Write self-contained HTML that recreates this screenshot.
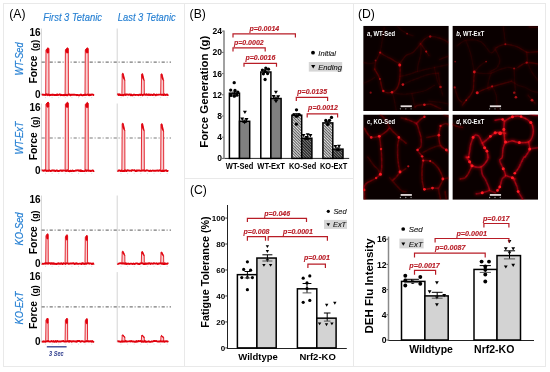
<!DOCTYPE html>
<html><head><meta charset="utf-8"><title>Figure</title>
<style>
html,body{margin:0;padding:0;background:#fff;}
body{width:550px;height:372px;overflow:hidden;}
svg{display:block;}
</style></head>
<body>
<svg width="550" height="372" viewBox="0 0 550 372">
<rect width="550" height="372" fill="#fff"/>
<g fill="none" stroke="#e9e9e9" stroke-width="1">
<rect x="3.5" y="3.5" width="181" height="363"/>
<rect x="184.5" y="3.5" width="169" height="175"/>
<rect x="184.5" y="178.5" width="169" height="188"/>
<rect x="353.5" y="3.5" width="192" height="363"/>
</g>
<text x="9.2" y="18.3" style="font: 12.2px 'Liberation Sans', Arial, sans-serif">(A)</text>
<text x="43.2" y="21.1" style="font: italic 11.4px 'Liberation Sans', Arial, sans-serif; fill:#2780d3; stroke:#2780d3; stroke-width:0.15" textLength="58.8" lengthAdjust="spacingAndGlyphs">First 3 Tetanic</text>
<text x="117.8" y="21.1" style="font: italic 11.4px 'Liberation Sans', Arial, sans-serif; fill:#2780d3; stroke:#2780d3; stroke-width:0.15" textLength="58" lengthAdjust="spacingAndGlyphs">Last 3 Tetanic</text>
<line x1="41.4" y1="28.5" x2="41.4" y2="95.8" stroke="#d4d4d4" stroke-width="1"/>
<line x1="117.2" y1="28.5" x2="117.2" y2="95.8" stroke="#d4d4d4" stroke-width="1"/>
<line x1="45.5" y1="97" x2="45.5" y2="98.2" stroke="#d8d8d8" stroke-width="0.8"/>
<line x1="52.1" y1="97" x2="52.1" y2="98.2" stroke="#d8d8d8" stroke-width="0.8"/>
<line x1="58.7" y1="97" x2="58.7" y2="98.2" stroke="#d8d8d8" stroke-width="0.8"/>
<line x1="65.3" y1="97" x2="65.3" y2="98.2" stroke="#d8d8d8" stroke-width="0.8"/>
<line x1="71.9" y1="97" x2="71.9" y2="98.2" stroke="#d8d8d8" stroke-width="0.8"/>
<line x1="78.5" y1="97" x2="78.5" y2="98.2" stroke="#d8d8d8" stroke-width="0.8"/>
<line x1="85.1" y1="97" x2="85.1" y2="98.2" stroke="#d8d8d8" stroke-width="0.8"/>
<line x1="91.7" y1="97" x2="91.7" y2="98.2" stroke="#d8d8d8" stroke-width="0.8"/>
<line x1="121" y1="97" x2="121" y2="98.2" stroke="#d8d8d8" stroke-width="0.8"/>
<line x1="127.6" y1="97" x2="127.6" y2="98.2" stroke="#d8d8d8" stroke-width="0.8"/>
<line x1="134.2" y1="97" x2="134.2" y2="98.2" stroke="#d8d8d8" stroke-width="0.8"/>
<line x1="140.8" y1="97" x2="140.8" y2="98.2" stroke="#d8d8d8" stroke-width="0.8"/>
<line x1="147.4" y1="97" x2="147.4" y2="98.2" stroke="#d8d8d8" stroke-width="0.8"/>
<line x1="154" y1="97" x2="154" y2="98.2" stroke="#d8d8d8" stroke-width="0.8"/>
<line x1="160.6" y1="97" x2="160.6" y2="98.2" stroke="#d8d8d8" stroke-width="0.8"/>
<line x1="167.2" y1="97" x2="167.2" y2="98.2" stroke="#d8d8d8" stroke-width="0.8"/>
<line x1="41.6" y1="62.1" x2="171" y2="62.1" stroke="#7a7a7a" stroke-width="1.15" stroke-dasharray="3.2,1.8,1.0,2.0"/>
<text x="40.6" y="36.1" text-anchor="end" style="font: bold 10px 'Liberation Sans', Arial, sans-serif">16</text>
<text x="40.6" y="98.4" text-anchor="end" style="font: bold 10px 'Liberation Sans', Arial, sans-serif">0</text>
<text transform="translate(36.9,83.6) rotate(-90)" style="font: bold 10.3px 'Liberation Sans', Arial, sans-serif">Force<tspan style="font-size:8.8px" dx="2.0" dy="0.7"> (g)</tspan></text>
<text transform="translate(23.2,58.9) rotate(-90)" text-anchor="middle" style="font: italic 11px 'Liberation Sans', Arial, sans-serif; fill:#2780d3; stroke:#2780d3; stroke-width:0.2" textLength="33" lengthAdjust="spacingAndGlyphs">WT-Sed</text>
<path d="M45.7,94.8 L46,50 L46.9,48.8 L48.1,47.8 L48.9,48.8 L49,93.3 L49,94.8Z M65.1,94.8 L65.4,50 L66.3,48.8 L67.5,47.8 L68.3,48.8 L68.4,93.3 L68.4,94.8Z M85,94.8 L85.3,50 L86.2,48.8 L87.4,47.8 L88.2,48.8 L88.3,93.3 L88.3,94.8Z M121.9,94.8 L122.2,73.9 L122.7,73.3 L123.2,73.6 L124.5,79.32 L124.8,79.92 L124.9,93.6 L124.9,94.8Z M141.3,94.8 L141.6,74.2 L142.1,73.6 L142.6,73.9 L143.9,79.54 L144.2,80.13 L144.3,93.6 L144.3,94.8Z M160.7,94.8 L161,74.4 L161.5,73.8 L162,74.1 L163.3,79.68 L163.6,80.27 L163.7,93.6 L163.7,94.8Z" fill="#f8cfd1" stroke="none"/>
<path d="M45.7,94.8 L46,50 L46.9,48.8 L48.1,47.8 L48.9,48.8 L49,93.3 Q49.2,94.8 50.6,94.8 M65.1,94.8 L65.4,50 L66.3,48.8 L67.5,47.8 L68.3,48.8 L68.4,93.3 Q68.6,94.8 70,94.8 M85,94.8 L85.3,50 L86.2,48.8 L87.4,47.8 L88.2,48.8 L88.3,93.3 Q88.5,94.8 89.9,94.8 M121.9,94.8 L122.2,73.9 L122.7,73.3 L123.2,73.6 L124.5,79.32 L124.8,79.92 L124.9,93.6 Q125.1,94.8 126.2,94.8 M141.3,94.8 L141.6,74.2 L142.1,73.6 L142.6,73.9 L143.9,79.54 L144.2,80.13 L144.3,93.6 Q144.5,94.8 145.6,94.8 M160.7,94.8 L161,74.4 L161.5,73.8 L162,74.1 L163.3,79.68 L163.6,80.27 L163.7,93.6 Q163.9,94.8 165,94.8" fill="none" stroke="#e42a34" stroke-width="1.0" stroke-linejoin="round"/>
<path d="M41.8,94.8 L42.4,94.54 L43.1,94.84 L43.8,94.67 L44.5,94.9 L45.2,94.93 L45.9,94.37 L46.6,94.31 L47.3,95.14 L48,94.56 L48.7,94.53 L49.4,95.3 L50.1,94.77 L50.8,95.14 L51.5,94.78 L52.2,94.94 L52.9,94.45 L53.6,94.93 L54.3,95.17 L55,94.82 L55.7,95.04 L56.4,94.97 L57.1,94.36 L57.8,95.06 L58.5,94.89 L59.2,94.6 L59.9,94.33 L60.6,95.17 L61.3,94.77 L62,95.02 L62.7,95.18 L63.4,95.01 L64.1,95.22 L64.8,94.69 L65.5,95.1 L66.2,94.74 L66.9,95.24 L67.6,95.18 L68.3,94.4 L69,94.44 L69.7,94.52 L70.4,95.27 L71.1,94.74 L71.8,94.93 L72.5,94.6 L73.2,94.81 L73.9,94.69 L74.6,94.65 L75.3,94.89 L76,94.88 L76.7,95.2 L77.4,94.98 L78.1,95.23 L78.8,95.16 L79.5,95.29 L80.2,94.97 L80.9,94.46 L81.6,95.16 L82.3,95.26 L83,95.2 L83.7,94.87 L84.4,95.01 L85.1,94.51 L85.8,95.13 L86.5,94.87 L87.2,94.58 L87.9,94.36 L88.6,95.15 L89.3,95.29 L90,94.39 L90.7,95.1 L91.4,94.71 L92.1,94.45 L92.8,94.59 L93.5,95.07 L94.2,95.17 M117.4,94.8 L118,94.34 L118.7,94.91 L119.4,94.34 L120.1,95.02 L120.8,94.63 L121.5,95.18 L122.2,95.28 L122.9,94.81 L123.6,95.3 L124.3,94.61 L125,94.38 L125.7,94.9 L126.4,94.33 L127.1,94.5 L127.8,94.71 L128.5,94.91 L129.2,94.46 L129.9,94.34 L130.6,95.17 L131.3,94.61 L132,95.26 L132.7,95.2 L133.4,94.68 L134.1,94.76 L134.8,94.82 L135.5,94.94 L136.2,94.9 L136.9,94.86 L137.6,94.92 L138.3,95.24 L139,94.81 L139.7,94.73 L140.4,95.02 L141.1,94.54 L141.8,94.6 L142.5,95.28 L143.2,94.82 L143.9,94.85 L144.6,94.31 L145.3,94.72 L146,94.88 L146.7,94.32 L147.4,94.92 L148.1,94.93 L148.8,94.36 L149.5,94.93 L150.2,94.77 L150.9,94.98 L151.6,94.65 L152.3,95.01 L153,95.04 L153.7,94.32 L154.4,94.36 L155.1,94.98 L155.8,95.26 L156.5,94.55 L157.2,94.76 L157.9,94.89 L158.6,94.62 L159.3,94.66 L160,94.61 L160.7,94.67 L161.4,94.9 L162.1,94.6 L162.8,94.68 L163.5,95.07 L164.2,94.33 L164.9,94.87 L165.6,95.04 L166.3,94.61 L167,94.52 L167.7,95.1 L168.4,94.54" fill="none" stroke="#e0000c" stroke-width="1.9" stroke-linejoin="round"/>
<path d="M46.2,50 L46.9,48.8 L48.1,47.8 L48.9,48.8 L48.9,52.8 L47.4,53.3 L46.4,52Z M65.6,50 L66.3,48.8 L67.5,47.8 L68.3,48.8 L68.3,52.8 L66.8,53.3 L65.8,52Z M85.5,50 L86.2,48.8 L87.4,47.8 L88.2,48.8 L88.2,52.8 L86.7,53.3 L85.7,52Z M122.3,73.9 L122.7,73.3 L123.2,73.6 L124.6,79.32 L124.7,80.52 L123.4,78.72 L122.5,76.91Z M141.7,74.2 L142.1,73.6 L142.6,73.9 L144,79.54 L144.1,80.74 L142.8,78.94 L141.9,77.16Z M161.1,74.4 L161.5,73.8 L162,74.1 L163.4,79.68 L163.5,80.88 L162.2,79.09 L161.3,77.33Z" fill="#e0000c" stroke="#e0000c" stroke-width="0.4"/>
<line x1="41.4" y1="103.5" x2="41.4" y2="171.7" stroke="#d4d4d4" stroke-width="1"/>
<line x1="117.2" y1="103.5" x2="117.2" y2="171.7" stroke="#d4d4d4" stroke-width="1"/>
<line x1="45.5" y1="172.9" x2="45.5" y2="174.1" stroke="#d8d8d8" stroke-width="0.8"/>
<line x1="52.1" y1="172.9" x2="52.1" y2="174.1" stroke="#d8d8d8" stroke-width="0.8"/>
<line x1="58.7" y1="172.9" x2="58.7" y2="174.1" stroke="#d8d8d8" stroke-width="0.8"/>
<line x1="65.3" y1="172.9" x2="65.3" y2="174.1" stroke="#d8d8d8" stroke-width="0.8"/>
<line x1="71.9" y1="172.9" x2="71.9" y2="174.1" stroke="#d8d8d8" stroke-width="0.8"/>
<line x1="78.5" y1="172.9" x2="78.5" y2="174.1" stroke="#d8d8d8" stroke-width="0.8"/>
<line x1="85.1" y1="172.9" x2="85.1" y2="174.1" stroke="#d8d8d8" stroke-width="0.8"/>
<line x1="91.7" y1="172.9" x2="91.7" y2="174.1" stroke="#d8d8d8" stroke-width="0.8"/>
<line x1="121" y1="172.9" x2="121" y2="174.1" stroke="#d8d8d8" stroke-width="0.8"/>
<line x1="127.6" y1="172.9" x2="127.6" y2="174.1" stroke="#d8d8d8" stroke-width="0.8"/>
<line x1="134.2" y1="172.9" x2="134.2" y2="174.1" stroke="#d8d8d8" stroke-width="0.8"/>
<line x1="140.8" y1="172.9" x2="140.8" y2="174.1" stroke="#d8d8d8" stroke-width="0.8"/>
<line x1="147.4" y1="172.9" x2="147.4" y2="174.1" stroke="#d8d8d8" stroke-width="0.8"/>
<line x1="154" y1="172.9" x2="154" y2="174.1" stroke="#d8d8d8" stroke-width="0.8"/>
<line x1="160.6" y1="172.9" x2="160.6" y2="174.1" stroke="#d8d8d8" stroke-width="0.8"/>
<line x1="167.2" y1="172.9" x2="167.2" y2="174.1" stroke="#d8d8d8" stroke-width="0.8"/>
<line x1="41.6" y1="138" x2="171" y2="138" stroke="#7a7a7a" stroke-width="1.15" stroke-dasharray="3.2,1.8,1.0,2.0"/>
<text x="40.6" y="111.1" text-anchor="end" style="font: bold 10px 'Liberation Sans', Arial, sans-serif">16</text>
<text x="40.6" y="174.3" text-anchor="end" style="font: bold 10px 'Liberation Sans', Arial, sans-serif">0</text>
<text transform="translate(36.9,160.3) rotate(-90)" style="font: bold 10.3px 'Liberation Sans', Arial, sans-serif">Force<tspan style="font-size:8.8px" dx="2.0" dy="0.7"> (g)</tspan></text>
<text transform="translate(23.2,138) rotate(-90)" text-anchor="middle" style="font: italic 11px 'Liberation Sans', Arial, sans-serif; fill:#2780d3; stroke:#2780d3; stroke-width:0.2" textLength="33" lengthAdjust="spacingAndGlyphs">WT-ExT</text>
<path d="M45.7,170.7 L46,104.2 L46.9,103 L48.1,102 L48.9,103 L49,169.2 L49,170.7Z M65.1,170.7 L65.4,104.4 L66.3,103.2 L67.5,102.2 L68.3,103.2 L68.4,169.2 L68.4,170.7Z M85,170.7 L85.3,104.6 L86.2,103.4 L87.4,102.4 L88.2,103.4 L88.3,169.2 L88.3,170.7Z M121.9,170.7 L122.2,123.8 L122.7,123.2 L123.2,123.5 L124.5,129.7 L124.8,130.35 L124.9,169.5 L124.9,170.7Z M141.3,170.7 L141.6,124 L142.1,123.4 L142.6,123.7 L143.9,129.9 L144.2,130.55 L144.3,169.5 L144.3,170.7Z M160.7,170.7 L161,124.4 L161.5,123.8 L162,124.1 L163.3,130.3 L163.6,130.95 L163.7,169.5 L163.7,170.7Z" fill="#f8cfd1" stroke="none"/>
<path d="M45.7,170.7 L46,104.2 L46.9,103 L48.1,102 L48.9,103 L49,169.2 Q49.2,170.7 50.6,170.7 M65.1,170.7 L65.4,104.4 L66.3,103.2 L67.5,102.2 L68.3,103.2 L68.4,169.2 Q68.6,170.7 70,170.7 M85,170.7 L85.3,104.6 L86.2,103.4 L87.4,102.4 L88.2,103.4 L88.3,169.2 Q88.5,170.7 89.9,170.7 M121.9,170.7 L122.2,123.8 L122.7,123.2 L123.2,123.5 L124.5,129.7 L124.8,130.35 L124.9,169.5 Q125.1,170.7 126.2,170.7 M141.3,170.7 L141.6,124 L142.1,123.4 L142.6,123.7 L143.9,129.9 L144.2,130.55 L144.3,169.5 Q144.5,170.7 145.6,170.7 M160.7,170.7 L161,124.4 L161.5,123.8 L162,124.1 L163.3,130.3 L163.6,130.95 L163.7,169.5 Q163.9,170.7 165,170.7" fill="none" stroke="#e42a34" stroke-width="1.0" stroke-linejoin="round"/>
<path d="M41.8,170.7 L42.4,170.39 L43.1,170.64 L43.8,170.9 L44.5,170.3 L45.2,170.52 L45.9,170.53 L46.6,171.03 L47.3,170.64 L48,171.06 L48.7,170.37 L49.4,170.54 L50.1,170.85 L50.8,171.08 L51.5,170.65 L52.2,170.43 L52.9,170.32 L53.6,170.73 L54.3,170.39 L55,171.01 L55.7,171.04 L56.4,170.38 L57.1,170.48 L57.8,171.01 L58.5,170.84 L59.2,171.01 L59.9,170.55 L60.6,170.33 L61.3,170.49 L62,170.99 L62.7,170.47 L63.4,170.55 L64.1,170.62 L64.8,170.62 L65.5,170.61 L66.2,171.12 L66.9,170.36 L67.6,170.2 L68.3,171.14 L69,171.08 L69.7,171.19 L70.4,170.63 L71.1,171.15 L71.8,171.13 L72.5,170.42 L73.2,170.95 L73.9,171.04 L74.6,170.86 L75.3,170.72 L76,170.49 L76.7,170.54 L77.4,170.43 L78.1,170.27 L78.8,170.79 L79.5,170.49 L80.2,171.01 L80.9,170.25 L81.6,171.1 L82.3,170.89 L83,171.12 L83.7,171.1 L84.4,171.1 L85.1,170.78 L85.8,170.21 L86.5,170.95 L87.2,170.37 L87.9,170.5 L88.6,170.86 L89.3,170.72 L90,170.61 L90.7,171.14 L91.4,170.81 L92.1,170.54 L92.8,170.45 L93.5,171.06 L94.2,170.68 M117.4,170.7 L118,170.98 L118.7,170.55 L119.4,170.4 L120.1,170.73 L120.8,171.02 L121.5,170.37 L122.2,170.99 L122.9,171.12 L123.6,171.01 L124.3,171.02 L125,170.21 L125.7,170.83 L126.4,171.06 L127.1,170.25 L127.8,170.47 L128.5,170.47 L129.2,170.73 L129.9,170.62 L130.6,170.67 L131.3,170.98 L132,170.2 L132.7,170.25 L133.4,170.33 L134.1,170.32 L134.8,170.27 L135.5,171.17 L136.2,171.05 L136.9,170.29 L137.6,170.7 L138.3,170.52 L139,170.51 L139.7,170.55 L140.4,170.85 L141.1,170.79 L141.8,170.56 L142.5,170.39 L143.2,170.53 L143.9,170.32 L144.6,170.76 L145.3,170.92 L146,170.58 L146.7,170.28 L147.4,170.38 L148.1,170.57 L148.8,170.8 L149.5,170.98 L150.2,170.58 L150.9,171 L151.6,170.82 L152.3,170.63 L153,170.57 L153.7,170.7 L154.4,170.9 L155.1,170.62 L155.8,170.89 L156.5,170.66 L157.2,170.45 L157.9,170.74 L158.6,170.9 L159.3,170.27 L160,170.62 L160.7,170.63 L161.4,171.08 L162.1,171.14 L162.8,170.57 L163.5,171.1 L164.2,170.99 L164.9,170.46 L165.6,170.66 L166.3,170.32 L167,171.01 L167.7,170.86 L168.4,171.09" fill="none" stroke="#e0000c" stroke-width="1.9" stroke-linejoin="round"/>
<path d="M46.2,104.2 L46.9,103 L48.1,102 L48.9,103 L48.9,107 L47.4,107.5 L46.4,106.2Z M65.6,104.4 L66.3,103.2 L67.5,102.2 L68.3,103.2 L68.3,107.2 L66.8,107.7 L65.8,106.4Z M85.5,104.6 L86.2,103.4 L87.4,102.4 L88.2,103.4 L88.2,107.4 L86.7,107.9 L85.7,106.6Z M122.3,123.8 L122.7,123.2 L123.2,123.5 L124.6,129.7 L124.7,130.9 L123.4,129.05 L122.5,127.1Z M141.7,124 L142.1,123.4 L142.6,123.7 L144,129.9 L144.1,131.1 L142.8,129.25 L141.9,127.3Z M161.1,124.4 L161.5,123.8 L162,124.1 L163.4,130.3 L163.5,131.5 L162.2,129.65 L161.3,127.7Z" fill="#e0000c" stroke="#e0000c" stroke-width="0.4"/>
<line x1="41.4" y1="195.5" x2="41.4" y2="264.6" stroke="#d4d4d4" stroke-width="1"/>
<line x1="117.2" y1="195.5" x2="117.2" y2="264.6" stroke="#d4d4d4" stroke-width="1"/>
<line x1="45.5" y1="265.8" x2="45.5" y2="267" stroke="#d8d8d8" stroke-width="0.8"/>
<line x1="52.1" y1="265.8" x2="52.1" y2="267" stroke="#d8d8d8" stroke-width="0.8"/>
<line x1="58.7" y1="265.8" x2="58.7" y2="267" stroke="#d8d8d8" stroke-width="0.8"/>
<line x1="65.3" y1="265.8" x2="65.3" y2="267" stroke="#d8d8d8" stroke-width="0.8"/>
<line x1="71.9" y1="265.8" x2="71.9" y2="267" stroke="#d8d8d8" stroke-width="0.8"/>
<line x1="78.5" y1="265.8" x2="78.5" y2="267" stroke="#d8d8d8" stroke-width="0.8"/>
<line x1="85.1" y1="265.8" x2="85.1" y2="267" stroke="#d8d8d8" stroke-width="0.8"/>
<line x1="91.7" y1="265.8" x2="91.7" y2="267" stroke="#d8d8d8" stroke-width="0.8"/>
<line x1="121" y1="265.8" x2="121" y2="267" stroke="#d8d8d8" stroke-width="0.8"/>
<line x1="127.6" y1="265.8" x2="127.6" y2="267" stroke="#d8d8d8" stroke-width="0.8"/>
<line x1="134.2" y1="265.8" x2="134.2" y2="267" stroke="#d8d8d8" stroke-width="0.8"/>
<line x1="140.8" y1="265.8" x2="140.8" y2="267" stroke="#d8d8d8" stroke-width="0.8"/>
<line x1="147.4" y1="265.8" x2="147.4" y2="267" stroke="#d8d8d8" stroke-width="0.8"/>
<line x1="154" y1="265.8" x2="154" y2="267" stroke="#d8d8d8" stroke-width="0.8"/>
<line x1="160.6" y1="265.8" x2="160.6" y2="267" stroke="#d8d8d8" stroke-width="0.8"/>
<line x1="167.2" y1="265.8" x2="167.2" y2="267" stroke="#d8d8d8" stroke-width="0.8"/>
<line x1="41.6" y1="230.1" x2="171" y2="230.1" stroke="#7a7a7a" stroke-width="1.15" stroke-dasharray="3.2,1.8,1.0,2.0"/>
<text x="40.6" y="203.1" text-anchor="end" style="font: bold 10px 'Liberation Sans', Arial, sans-serif">16</text>
<text x="40.6" y="267.2" text-anchor="end" style="font: bold 10px 'Liberation Sans', Arial, sans-serif">0</text>
<text transform="translate(36.9,254.2) rotate(-90)" style="font: bold 10.3px 'Liberation Sans', Arial, sans-serif">Force<tspan style="font-size:8.8px" dx="2.0" dy="0.7"> (g)</tspan></text>
<text transform="translate(23.2,229) rotate(-90)" text-anchor="middle" style="font: italic 11px 'Liberation Sans', Arial, sans-serif; fill:#2780d3; stroke:#2780d3; stroke-width:0.2" textLength="33" lengthAdjust="spacingAndGlyphs">KO-Sed</text>
<path d="M45.7,263.6 L46,235.9 L46.67,234.7 L47.58,233.7 L48.17,234.7 L48.25,262.1 L48.25,263.6Z M65.1,263.6 L65.4,236.9 L66.08,235.7 L66.98,234.7 L67.58,235.7 L67.65,262.1 L67.65,263.6Z M85,263.6 L85.3,237.5 L85.97,236.3 L86.88,235.3 L87.47,236.3 L87.55,262.1 L87.55,263.6Z M121.9,263.6 L122.2,251.8 L122.7,251.2 L123.2,251.5 L124.5,254.67 L124.8,255.02 L124.9,262.4 L124.9,263.6Z M141.3,263.6 L141.6,252 L142.1,251.4 L142.6,251.7 L143.9,254.82 L144.2,255.16 L144.3,262.4 L144.3,263.6Z M160.7,263.6 L161,252.6 L161.5,252 L162,252.3 L163.3,255.25 L163.6,255.57 L163.7,262.4 L163.7,263.6Z" fill="#f8cfd1" stroke="none"/>
<path d="M45.7,263.6 L46,235.9 L46.67,234.7 L47.58,233.7 L48.17,234.7 L48.25,262.1 Q48.4,263.6 49.45,263.6 M65.1,263.6 L65.4,236.9 L66.08,235.7 L66.98,234.7 L67.58,235.7 L67.65,262.1 Q67.8,263.6 68.85,263.6 M85,263.6 L85.3,237.5 L85.97,236.3 L86.88,235.3 L87.47,236.3 L87.55,262.1 Q87.7,263.6 88.75,263.6 M121.9,263.6 L122.2,251.8 L122.7,251.2 L123.2,251.5 L124.5,254.67 L124.8,255.02 L124.9,262.4 Q125.1,263.6 126.2,263.6 M141.3,263.6 L141.6,252 L142.1,251.4 L142.6,251.7 L143.9,254.82 L144.2,255.16 L144.3,262.4 Q144.5,263.6 145.6,263.6 M160.7,263.6 L161,252.6 L161.5,252 L162,252.3 L163.3,255.25 L163.6,255.57 L163.7,262.4 Q163.9,263.6 165,263.6" fill="none" stroke="#e42a34" stroke-width="1.0" stroke-linejoin="round"/>
<path d="M41.8,263.6 L42.4,263.89 L43.1,263.77 L43.8,263.83 L44.5,263.66 L45.2,263.2 L45.9,263.69 L46.6,263.1 L47.3,263.24 L48,263.87 L48.7,263.14 L49.4,263.19 L50.1,263.2 L50.8,263.98 L51.5,263.28 L52.2,263.12 L52.9,263.94 L53.6,263.22 L54.3,263.94 L55,263.77 L55.7,263.94 L56.4,264.05 L57.1,263.68 L57.8,263.9 L58.5,263.14 L59.2,263.87 L59.9,263.61 L60.6,263.82 L61.3,263.21 L62,263.85 L62.7,264.03 L63.4,263.16 L64.1,263.42 L64.8,263.66 L65.5,263.93 L66.2,263.34 L66.9,263.28 L67.6,263.35 L68.3,263.72 L69,263.85 L69.7,263.49 L70.4,263.47 L71.1,263.5 L71.8,263.45 L72.5,263.52 L73.2,263.18 L73.9,263.6 L74.6,264.07 L75.3,263.51 L76,263.85 L76.7,263.26 L77.4,263.79 L78.1,263.86 L78.8,263.77 L79.5,263.62 L80.2,263.58 L80.9,263.74 L81.6,264 L82.3,263.25 L83,263.2 L83.7,263.85 L84.4,264.02 L85.1,263.62 L85.8,263.54 L86.5,263.82 L87.2,263.29 L87.9,263.37 L88.6,263.3 L89.3,263.69 L90,263.41 L90.7,263.33 L91.4,263.79 L92.1,264.05 L92.8,263.4 L93.5,263.81 L94.2,263.51 M117.4,263.6 L118,263.95 L118.7,263.68 L119.4,263.37 L120.1,263.32 L120.8,263.12 L121.5,263.58 L122.2,263.48 L122.9,263.27 L123.6,263.46 L124.3,263.42 L125,263.87 L125.7,263.24 L126.4,264.09 L127.1,263.58 L127.8,263.7 L128.5,263.57 L129.2,263.93 L129.9,263.92 L130.6,263.66 L131.3,263.58 L132,263.82 L132.7,263.96 L133.4,263.5 L134.1,263.83 L134.8,264.06 L135.5,263.57 L136.2,263.33 L136.9,263.33 L137.6,263.82 L138.3,263.78 L139,264.06 L139.7,263.95 L140.4,263.34 L141.1,263.29 L141.8,263.36 L142.5,263.29 L143.2,263.8 L143.9,263.96 L144.6,264 L145.3,263.36 L146,263.97 L146.7,263.41 L147.4,263.52 L148.1,263.83 L148.8,263.19 L149.5,263.19 L150.2,263.93 L150.9,263.39 L151.6,263.46 L152.3,263.68 L153,263.78 L153.7,263.11 L154.4,263.43 L155.1,263.54 L155.8,263.59 L156.5,263.31 L157.2,263.69 L157.9,264.06 L158.6,263.49 L159.3,263.64 L160,263.22 L160.7,263.37 L161.4,263.77 L162.1,263.21 L162.8,263.99 L163.5,264.01 L164.2,263.2 L164.9,264.04 L165.6,263.47 L166.3,263.87 L167,263.86 L167.7,263.4 L168.4,263.78" fill="none" stroke="#e0000c" stroke-width="1.9" stroke-linejoin="round"/>
<path d="M46.2,235.9 L46.67,234.7 L47.58,233.7 L48.17,234.7 L48.17,238.7 L47.05,239.2 L46.4,237.9Z M65.6,236.9 L66.08,235.7 L66.98,234.7 L67.58,235.7 L67.58,239.7 L66.45,240.2 L65.8,238.9Z M85.5,237.5 L85.97,236.3 L86.88,235.3 L87.47,236.3 L87.47,240.3 L86.35,240.8 L85.7,239.5Z M122.3,251.8 L122.7,251.2 L123.2,251.5 L124.6,254.67 L124.7,255.87 L123.4,254.32 L122.5,253.28Z M141.7,252 L142.1,251.4 L142.6,251.7 L144,254.82 L144.1,256.02 L142.8,254.47 L141.9,253.45Z M161.1,252.6 L161.5,252 L162,252.3 L163.4,255.25 L163.5,256.45 L162.2,254.92 L161.3,253.95Z" fill="#e0000c" stroke="#e0000c" stroke-width="0.4"/>
<line x1="41.4" y1="272.1" x2="41.4" y2="342.4" stroke="#d4d4d4" stroke-width="1"/>
<line x1="117.2" y1="272.1" x2="117.2" y2="342.4" stroke="#d4d4d4" stroke-width="1"/>
<line x1="45.5" y1="343.6" x2="45.5" y2="344.8" stroke="#d8d8d8" stroke-width="0.8"/>
<line x1="52.1" y1="343.6" x2="52.1" y2="344.8" stroke="#d8d8d8" stroke-width="0.8"/>
<line x1="58.7" y1="343.6" x2="58.7" y2="344.8" stroke="#d8d8d8" stroke-width="0.8"/>
<line x1="65.3" y1="343.6" x2="65.3" y2="344.8" stroke="#d8d8d8" stroke-width="0.8"/>
<line x1="71.9" y1="343.6" x2="71.9" y2="344.8" stroke="#d8d8d8" stroke-width="0.8"/>
<line x1="78.5" y1="343.6" x2="78.5" y2="344.8" stroke="#d8d8d8" stroke-width="0.8"/>
<line x1="85.1" y1="343.6" x2="85.1" y2="344.8" stroke="#d8d8d8" stroke-width="0.8"/>
<line x1="91.7" y1="343.6" x2="91.7" y2="344.8" stroke="#d8d8d8" stroke-width="0.8"/>
<line x1="121" y1="343.6" x2="121" y2="344.8" stroke="#d8d8d8" stroke-width="0.8"/>
<line x1="127.6" y1="343.6" x2="127.6" y2="344.8" stroke="#d8d8d8" stroke-width="0.8"/>
<line x1="134.2" y1="343.6" x2="134.2" y2="344.8" stroke="#d8d8d8" stroke-width="0.8"/>
<line x1="140.8" y1="343.6" x2="140.8" y2="344.8" stroke="#d8d8d8" stroke-width="0.8"/>
<line x1="147.4" y1="343.6" x2="147.4" y2="344.8" stroke="#d8d8d8" stroke-width="0.8"/>
<line x1="154" y1="343.6" x2="154" y2="344.8" stroke="#d8d8d8" stroke-width="0.8"/>
<line x1="160.6" y1="343.6" x2="160.6" y2="344.8" stroke="#d8d8d8" stroke-width="0.8"/>
<line x1="167.2" y1="343.6" x2="167.2" y2="344.8" stroke="#d8d8d8" stroke-width="0.8"/>
<line x1="41.6" y1="306.8" x2="171" y2="306.8" stroke="#7a7a7a" stroke-width="1.15" stroke-dasharray="3.2,1.8,1.0,2.0"/>
<text x="40.6" y="279.7" text-anchor="end" style="font: bold 10px 'Liberation Sans', Arial, sans-serif">16</text>
<text x="40.6" y="345" text-anchor="end" style="font: bold 10px 'Liberation Sans', Arial, sans-serif">0</text>
<text transform="translate(36.9,329) rotate(-90)" style="font: bold 10.3px 'Liberation Sans', Arial, sans-serif">Force<tspan style="font-size:8.8px" dx="2.0" dy="0.7"> (g)</tspan></text>
<text transform="translate(23.2,308) rotate(-90)" text-anchor="middle" style="font: italic 11px 'Liberation Sans', Arial, sans-serif; fill:#2780d3; stroke:#2780d3; stroke-width:0.2" textLength="33" lengthAdjust="spacingAndGlyphs">KO-ExT</text>
<path d="M45.7,341.4 L46,320.2 L46.67,319 L47.58,318 L48.17,319 L48.25,339.9 L48.25,341.4Z M65.1,341.4 L65.4,320.4 L66.08,319.2 L66.98,318.2 L67.58,319.2 L67.65,339.9 L67.65,341.4Z M85,341.4 L85.3,320.7 L85.97,319.5 L86.88,318.5 L87.47,319.5 L87.55,339.9 L87.55,341.4Z M121.9,341.4 L122.2,335.4 L122.7,334.8 L123.2,335.1 L124.5,336.65 L124.8,336.83 L124.9,340.2 L124.9,341.4Z M141.3,341.4 L141.6,335.6 L142.1,335 L142.6,335.3 L143.9,336.79 L144.2,336.97 L144.3,340.2 L144.3,341.4Z M160.7,341.4 L161,336 L161.5,335.4 L162,335.7 L163.3,337.08 L163.6,337.25 L163.7,340.2 L163.7,341.4Z" fill="#f8cfd1" stroke="none"/>
<path d="M45.7,341.4 L46,320.2 L46.67,319 L47.58,318 L48.17,319 L48.25,339.9 Q48.4,341.4 49.45,341.4 M65.1,341.4 L65.4,320.4 L66.08,319.2 L66.98,318.2 L67.58,319.2 L67.65,339.9 Q67.8,341.4 68.85,341.4 M85,341.4 L85.3,320.7 L85.97,319.5 L86.88,318.5 L87.47,319.5 L87.55,339.9 Q87.7,341.4 88.75,341.4 M121.9,341.4 L122.2,335.4 L122.7,334.8 L123.2,335.1 L124.5,336.65 L124.8,336.83 L124.9,340.2 Q125.1,341.4 126.2,341.4 M141.3,341.4 L141.6,335.6 L142.1,335 L142.6,335.3 L143.9,336.79 L144.2,336.97 L144.3,340.2 Q144.5,341.4 145.6,341.4 M160.7,341.4 L161,336 L161.5,335.4 L162,335.7 L163.3,337.08 L163.6,337.25 L163.7,340.2 Q163.9,341.4 165,341.4" fill="none" stroke="#e42a34" stroke-width="1.0" stroke-linejoin="round"/>
<path d="M41.8,341.4 L42.4,341.55 L43.1,341.71 L43.8,341.17 L44.5,341.65 L45.2,341.86 L45.9,341.57 L46.6,341.44 L47.3,341.01 L48,341.39 L48.7,341.25 L49.4,341.62 L50.1,341.58 L50.8,341.47 L51.5,341.08 L52.2,341.55 L52.9,341.53 L53.6,341.08 L54.3,341.79 L55,341.56 L55.7,341.02 L56.4,341.83 L57.1,341.04 L57.8,341.23 L58.5,341.62 L59.2,341.5 L59.9,341.45 L60.6,341.55 L61.3,341.36 L62,341.21 L62.7,341.08 L63.4,340.97 L64.1,341.62 L64.8,341.65 L65.5,341.44 L66.2,341.64 L66.9,341.26 L67.6,341.17 L68.3,341.28 L69,341.77 L69.7,340.94 L70.4,341.4 L71.1,341.15 L71.8,341.67 L72.5,341.25 L73.2,341.23 L73.9,341.3 L74.6,341.44 L75.3,341.67 L76,341.25 L76.7,341.75 L77.4,341.01 L78.1,341.17 L78.8,341 L79.5,341.01 L80.2,341.68 L80.9,341.63 L81.6,341.08 L82.3,341.09 L83,341.32 L83.7,341.64 L84.4,341.72 L85.1,341.65 L85.8,341.49 L86.5,341.05 L87.2,341.3 L87.9,341.09 L88.6,341.43 L89.3,341.47 L90,341.1 L90.7,341.15 L91.4,341.68 L92.1,340.93 L92.8,341.7 L93.5,341.79 L94.2,341.85 M117.4,341.4 L118,341.28 L118.7,341.45 L119.4,341.48 L120.1,341.53 L120.8,341.88 L121.5,341.59 L122.2,341.2 L122.9,341.76 L123.6,341.38 L124.3,341.5 L125,341.63 L125.7,340.9 L126.4,341.67 L127.1,341.56 L127.8,341.39 L128.5,341.42 L129.2,341.36 L129.9,341.09 L130.6,341.43 L131.3,340.94 L132,341.4 L132.7,341.55 L133.4,341.34 L134.1,341.47 L134.8,341.86 L135.5,341.79 L136.2,341.04 L136.9,341.69 L137.6,341.52 L138.3,340.95 L139,341.26 L139.7,341.13 L140.4,340.98 L141.1,341.44 L141.8,341.83 L142.5,341.22 L143.2,341.77 L143.9,341.59 L144.6,341.03 L145.3,341.76 L146,341.5 L146.7,341.83 L147.4,341.62 L148.1,341.64 L148.8,341.24 L149.5,341.71 L150.2,341.83 L150.9,341.76 L151.6,341.34 L152.3,341.66 L153,341.39 L153.7,341.01 L154.4,340.94 L155.1,340.98 L155.8,341.1 L156.5,341.06 L157.2,341.4 L157.9,341.6 L158.6,341.44 L159.3,341.32 L160,341.55 L160.7,341.2 L161.4,341.36 L162.1,341.66 L162.8,341.3 L163.5,341.08 L164.2,341.8 L164.9,341.62 L165.6,341.27 L166.3,341.27 L167,341.43 L167.7,341.5 L168.4,341.12" fill="none" stroke="#e0000c" stroke-width="1.9" stroke-linejoin="round"/>
<path d="M46.2,320.2 L46.67,319 L47.58,318 L48.17,319 L48.17,323 L47.05,323.5 L46.4,322.2Z M65.6,320.4 L66.08,319.2 L66.98,318.2 L67.58,319.2 L67.58,323.2 L66.45,323.7 L65.8,322.4Z M85.5,320.7 L85.97,319.5 L86.88,318.5 L87.47,319.5 L87.47,323.5 L86.35,324 L85.7,322.7Z M122.3,335.4 L122.7,334.8 L123.2,335.1 L124.6,336.65 L124.7,337.85 L123.4,336.46 L122.5,335.91Z M141.7,335.6 L142.1,335 L142.6,335.3 L144,336.79 L144.1,337.99 L142.8,336.61 L141.9,336.08Z M161.1,336 L161.5,335.4 L162,335.7 L163.4,337.08 L163.5,338.28 L162.2,336.91 L161.3,336.41Z" fill="#e0000c" stroke="#e0000c" stroke-width="0.4"/>
<line x1="46.8" y1="346.8" x2="66.6" y2="346.8" stroke="#2b3a8c" stroke-width="1.3"/>
<text x="49" y="356.3" style="font: italic bold 7px 'Liberation Sans', Arial, sans-serif; fill:#2b3a8c" textLength="14.6" lengthAdjust="spacingAndGlyphs">3 Sec</text>
<text x="189.6" y="17.8" style="font: 12.2px 'Liberation Sans', Arial, sans-serif">(B)</text>
<line x1="223.2" y1="158.4" x2="349.2" y2="158.4" stroke="#2a2a2a" stroke-width="1"/>
<line x1="222.2" y1="158.4" x2="224.0" y2="158.4" stroke="#333" stroke-width="0.9"/>
<text x="222.0" y="161.45" text-anchor="end" style="font: bold 8.5px 'Liberation Sans', Arial, sans-serif">0</text>
<line x1="222.2" y1="137.2" x2="224.0" y2="137.2" stroke="#333" stroke-width="0.9"/>
<text x="222.0" y="140.25" text-anchor="end" style="font: bold 8.5px 'Liberation Sans', Arial, sans-serif">4</text>
<line x1="222.2" y1="116" x2="224.0" y2="116" stroke="#333" stroke-width="0.9"/>
<text x="222.0" y="119.05" text-anchor="end" style="font: bold 8.5px 'Liberation Sans', Arial, sans-serif">8</text>
<line x1="222.2" y1="94.8" x2="224.0" y2="94.8" stroke="#333" stroke-width="0.9"/>
<text x="222.0" y="97.85" text-anchor="end" style="font: bold 8.5px 'Liberation Sans', Arial, sans-serif">12</text>
<line x1="222.2" y1="73.6" x2="224.0" y2="73.6" stroke="#333" stroke-width="0.9"/>
<text x="222.0" y="76.65" text-anchor="end" style="font: bold 8.5px 'Liberation Sans', Arial, sans-serif">16</text>
<line x1="222.2" y1="52.4" x2="224.0" y2="52.4" stroke="#333" stroke-width="0.9"/>
<text x="222.0" y="55.45" text-anchor="end" style="font: bold 8.5px 'Liberation Sans', Arial, sans-serif">20</text>
<line x1="222.2" y1="31.2" x2="224.0" y2="31.2" stroke="#333" stroke-width="0.9"/>
<text x="222.0" y="34.25" text-anchor="end" style="font: bold 8.5px 'Liberation Sans', Arial, sans-serif">24</text>
<line x1="224.0" y1="30.6" x2="224.0" y2="158.9" stroke="#8a8a8a" stroke-width="1.6"/>
<text transform="translate(208.0,91.8) rotate(-90)" text-anchor="middle" style="font: bold 11.4px 'Liberation Sans', Arial, sans-serif">Force Generation (g)</text>
<defs><pattern id="hl" patternUnits="userSpaceOnUse" width="2" height="2" patternTransform="rotate(-45)"><rect width="2" height="2" fill="#ececec"/><rect width="0.95" height="2" fill="#4a4a4a"/><rect width="2" height="0.5" fill="#9a9a9a" opacity="0.6"/></pattern><pattern id="hd" patternUnits="userSpaceOnUse" width="2" height="2" patternTransform="rotate(-45)"><rect width="2" height="2" fill="#8a8a8a"/><rect width="1.0" height="2" fill="#141414"/><rect width="2" height="0.5" fill="#333" opacity="0.6"/></pattern><filter id="bl" x="-10%" y="-10%" width="120%" height="120%"><feGaussianBlur stdDeviation="0.55"/></filter><filter id="bl2" x="-10%" y="-10%" width="120%" height="120%"><feGaussianBlur stdDeviation="1.1"/></filter></defs>
<rect x="229.4" y="93.21" width="10.1" height="65.19" fill="#fff" stroke="#000" stroke-width="1.5"/>
<rect x="239.5" y="121.3" width="10.2" height="37.1" fill="#808080" stroke="#000" stroke-width="1.5"/>
<rect x="260.8" y="72.01" width="10.1" height="86.39" fill="#fff" stroke="#000" stroke-width="1.5"/>
<rect x="270.9" y="98.51" width="10.2" height="59.89" fill="#808080" stroke="#000" stroke-width="1.5"/>
<rect x="291.9" y="115.21" width="9.8" height="43.19" fill="url(#hl)" stroke="#000" stroke-width="1.5"/>
<rect x="301.7" y="138.26" width="10.2" height="20.14" fill="url(#hd)" stroke="#000" stroke-width="1.5"/>
<rect x="322.9" y="122.89" width="9.9" height="35.51" fill="url(#hl)" stroke="#000" stroke-width="1.5"/>
<rect x="332.8" y="149.12" width="10.2" height="9.28" fill="url(#hd)" stroke="#000" stroke-width="1.5"/>
<circle cx="234.2" cy="82.7" r="1.65" fill="#000"/>
<circle cx="230.7" cy="90.1" r="1.65" fill="#000"/>
<circle cx="235" cy="90.5" r="1.65" fill="#000"/>
<circle cx="237.8" cy="92.1" r="1.65" fill="#000"/>
<circle cx="231" cy="95.4" r="1.65" fill="#000"/>
<circle cx="234.3" cy="96.2" r="1.65" fill="#000"/>
<circle cx="237" cy="95.2" r="1.65" fill="#000"/>
<path d="M234.5,94.41 V92.01 M232.3,92.01 H236.7 M232.3,94.41 H236.7" stroke="#000" stroke-width="0.9" fill="none"/>
<path d="M242.9,110.7 L246.9,110.7 L244.9,114.1Z" fill="#000"/>
<path d="M240.2,117.6 L244.2,117.6 L242.2,121Z" fill="#000"/>
<path d="M244.5,118 L248.5,118 L246.5,121.4Z" fill="#000"/>
<path d="M242.6,120.9 L246.6,120.9 L244.6,124.3Z" fill="#000"/>
<path d="M244.6,122.5 V120.1 M242.4,120.1 H246.8 M242.4,122.5 H246.8" stroke="#000" stroke-width="0.9" fill="none"/>
<circle cx="262.4" cy="70.1" r="1.65" fill="#000"/>
<circle cx="265.8" cy="68.1" r="1.65" fill="#000"/>
<circle cx="268.5" cy="69.2" r="1.65" fill="#000"/>
<circle cx="265.1" cy="71.4" r="1.65" fill="#000"/>
<circle cx="263.4" cy="73.8" r="1.65" fill="#000"/>
<circle cx="267.6" cy="73.6" r="1.65" fill="#000"/>
<circle cx="265.1" cy="79.5" r="1.65" fill="#000"/>
<path d="M265.8,72.25 V69.65 M263.6,69.65 H268 M263.6,72.25 H268" stroke="#000" stroke-width="0.9" fill="none"/>
<path d="M273.9,90.7 L277.9,90.7 L275.9,94.1Z" fill="#000"/>
<path d="M271.6,95 L275.6,95 L273.6,98.4Z" fill="#000"/>
<path d="M276.2,95.2 L280.2,95.2 L278.2,98.6Z" fill="#000"/>
<path d="M274,99.9 L278,99.9 L276,103.3Z" fill="#000"/>
<path d="M276,99.91 V97.11 M273.8,97.11 H278.2 M273.8,99.91 H278.2" stroke="#000" stroke-width="0.9" fill="none"/>
<circle cx="296.5" cy="109.8" r="1.65" fill="#000"/>
<circle cx="293.8" cy="114.6" r="1.65" fill="#000"/>
<circle cx="299.2" cy="114.6" r="1.65" fill="#000"/>
<circle cx="296.5" cy="116.2" r="1.65" fill="#000"/>
<circle cx="296.4" cy="124.2" r="1.65" fill="#000"/>
<path d="M296.7,116.81 V113.61 M294.5,113.61 H298.9 M294.5,116.81 H298.9" stroke="#000" stroke-width="0.9" fill="none"/>
<path d="M301.5,133.9 L305.5,133.9 L303.5,137.3Z" fill="#000"/>
<path d="M305.7,133.2 L309.7,133.2 L307.7,136.6Z" fill="#000"/>
<path d="M308.4,134 L312.4,134 L310.4,137.4Z" fill="#000"/>
<path d="M304.6,136 L308.6,136 L306.6,139.4Z" fill="#000"/>
<path d="M306.8,139.46 V137.06 M304.6,137.06 H309 M304.6,139.46 H309" stroke="#000" stroke-width="0.9" fill="none"/>
<circle cx="325.8" cy="120.5" r="1.65" fill="#000"/>
<circle cx="329.5" cy="120.3" r="1.65" fill="#000"/>
<circle cx="331.5" cy="117.4" r="1.65" fill="#000"/>
<circle cx="327.6" cy="124.6" r="1.65" fill="#000"/>
<path d="M327.9,124.19 V121.59 M325.7,121.59 H330.1 M325.7,124.19 H330.1" stroke="#000" stroke-width="0.9" fill="none"/>
<path d="M333.4,145 L337.4,145 L335.4,148.4Z" fill="#000"/>
<path d="M337,144.7 L341,144.7 L339,148.1Z" fill="#000"/>
<path d="M335.6,148.4 L339.6,148.4 L337.6,151.8Z" fill="#000"/>
<path d="M338,150.43 V147.82 M335.8,147.82 H340.2 M335.8,150.43 H340.2" stroke="#000" stroke-width="0.9" fill="none"/>
<path d="M233,37.6 V33.8 H295.4 V37.6" fill="none" stroke="#b81c26" stroke-width="1.2"/>
<text x="264.3" y="30.6" text-anchor="middle" style="font: italic bold 7.0px 'Liberation Sans', Arial, sans-serif; fill:#b81c26; stroke:#b81c26; stroke-width:0.12">p=0.0014</text>
<path d="M233,51.4 V47.9 H265.2 V51.4" fill="none" stroke="#b81c26" stroke-width="1.2"/>
<text x="248.8" y="45.2" text-anchor="middle" style="font: italic bold 7.0px 'Liberation Sans', Arial, sans-serif; fill:#b81c26; stroke:#b81c26; stroke-width:0.12">p=0.0002</text>
<path d="M244,66.8 V63.4 H276.5 V66.8" fill="none" stroke="#b81c26" stroke-width="1.2"/>
<text x="260.4" y="60.1" text-anchor="middle" style="font: italic bold 7.0px 'Liberation Sans', Arial, sans-serif; fill:#b81c26; stroke:#b81c26; stroke-width:0.12">p=0.0016</text>
<path d="M296.3,101 V97.4 H327.6 V101" fill="none" stroke="#b81c26" stroke-width="1.2"/>
<text x="312.2" y="93.7" text-anchor="middle" style="font: italic bold 7.0px 'Liberation Sans', Arial, sans-serif; fill:#b81c26; stroke:#b81c26; stroke-width:0.12">p=0.0135</text>
<path d="M307.2,117.6 V113.8 H337.6 V117.6" fill="none" stroke="#b81c26" stroke-width="1.2"/>
<text x="323" y="110.2" text-anchor="middle" style="font: italic bold 7.0px 'Liberation Sans', Arial, sans-serif; fill:#b81c26; stroke:#b81c26; stroke-width:0.12">p=0.0012</text>
<circle cx="313" cy="52.7" r="1.9" fill="#000"/>
<text x="318.3" y="55.6" style="font: italic 7.6px 'Liberation Sans', Arial, sans-serif; fill:#111; stroke:#111; stroke-width:0.1">Initial</text>
<rect x="308.8" y="62" width="33.4" height="9.6" fill="#d6d6d6"/>
<path d="M311.1,64.92 L315.3,64.92 L313.2,68.49Z" fill="#000"/>
<text x="318.3" y="69.7" style="font: italic 7.6px 'Liberation Sans', Arial, sans-serif; fill:#111; stroke:#111; stroke-width:0.1">Ending</text>
<text x="239.6" y="169.4" text-anchor="middle" style="font: bold 8.6px 'Liberation Sans', Arial, sans-serif" textLength="27.6" lengthAdjust="spacingAndGlyphs">WT-Sed</text>
<text x="271.1" y="169.4" text-anchor="middle" style="font: bold 8.6px 'Liberation Sans', Arial, sans-serif" textLength="27.6" lengthAdjust="spacingAndGlyphs">WT-ExT</text>
<text x="302.6" y="169.4" text-anchor="middle" style="font: bold 8.6px 'Liberation Sans', Arial, sans-serif" textLength="27.2" lengthAdjust="spacingAndGlyphs">KO-Sed</text>
<text x="333.6" y="169.4" text-anchor="middle" style="font: bold 8.6px 'Liberation Sans', Arial, sans-serif" textLength="27.2" lengthAdjust="spacingAndGlyphs">KO-ExT</text>
<text x="190.0" y="194.4" style="font: 12.2px 'Liberation Sans', Arial, sans-serif">(C)</text>
<line x1="227.5" y1="205" x2="227.5" y2="348.4" stroke="#222" stroke-width="1"/>
<line x1="227.0" y1="348.5" x2="346.8" y2="348.5" stroke="#222" stroke-width="1.2"/>
<line x1="225.3" y1="347.9" x2="227.5" y2="347.9" stroke="#222" stroke-width="0.9"/>
<text x="225.1" y="350.8" text-anchor="end" style="font: bold 8px 'Liberation Sans', Arial, sans-serif">0</text>
<line x1="225.3" y1="321.93" x2="227.5" y2="321.93" stroke="#222" stroke-width="0.9"/>
<text x="225.1" y="324.83" text-anchor="end" style="font: bold 8px 'Liberation Sans', Arial, sans-serif">20</text>
<line x1="225.3" y1="295.96" x2="227.5" y2="295.96" stroke="#222" stroke-width="0.9"/>
<text x="225.1" y="298.86" text-anchor="end" style="font: bold 8px 'Liberation Sans', Arial, sans-serif">40</text>
<line x1="225.3" y1="269.99" x2="227.5" y2="269.99" stroke="#222" stroke-width="0.9"/>
<text x="225.1" y="272.89" text-anchor="end" style="font: bold 8px 'Liberation Sans', Arial, sans-serif">60</text>
<line x1="225.3" y1="244.02" x2="227.5" y2="244.02" stroke="#222" stroke-width="0.9"/>
<text x="225.1" y="246.92" text-anchor="end" style="font: bold 8px 'Liberation Sans', Arial, sans-serif">80</text>
<line x1="225.3" y1="218.05" x2="227.5" y2="218.05" stroke="#222" stroke-width="0.9"/>
<text x="225.1" y="220.95" text-anchor="end" style="font: bold 8px 'Liberation Sans', Arial, sans-serif">100</text>
<text transform="translate(209.2,272) rotate(-90)" text-anchor="middle" style="font: bold 10.8px 'Liberation Sans', Arial, sans-serif">Fatigue Tolerance (%)</text>
<rect x="237.4" y="274.66" width="19.5" height="73.24" fill="#fff" stroke="#000" stroke-width="1.5"/>
<rect x="256.9" y="258.04" width="19.3" height="89.86" fill="#d3d3d3" stroke="#000" stroke-width="1.5"/>
<rect x="297.4" y="288.82" width="19.4" height="59.08" fill="#fff" stroke="#000" stroke-width="1.5"/>
<rect x="316.8" y="318.16" width="19.3" height="29.74" fill="#d3d3d3" stroke="#000" stroke-width="1.5"/>
<circle cx="247.4" cy="261.8" r="1.6" fill="#000"/>
<circle cx="243.7" cy="269.4" r="1.6" fill="#000"/>
<circle cx="250.6" cy="270.2" r="1.6" fill="#000"/>
<circle cx="241.8" cy="277.6" r="1.6" fill="#000"/>
<circle cx="247.4" cy="277.6" r="1.6" fill="#000"/>
<circle cx="252.4" cy="277.6" r="1.6" fill="#000"/>
<circle cx="247.4" cy="289.7" r="1.6" fill="#000"/>
<path d="M247.4,271.5 V278 M244.5,271.5 H250.3" stroke="#000" stroke-width="1.0" fill="none"/>
<path d="M244.5,278 H250.3" stroke="#555" stroke-width="1.0" fill="none"/>
<path d="M265.7,245.14 L269.1,245.14 L267.4,248.03Z" fill="#000"/>
<path d="M265.7,250.04 L269.1,250.04 L267.4,252.93Z" fill="#000"/>
<path d="M265.7,259.24 L269.1,259.24 L267.4,262.13Z" fill="#000"/>
<path d="M262.2,263.94 L265.6,263.94 L263.9,266.83Z" fill="#000"/>
<path d="M268.9,263.94 L272.3,263.94 L270.6,266.83Z" fill="#000"/>
<path d="M267.4,254.8 V261 M262.4,254.8 H272.4" stroke="#000" stroke-width="1.0" fill="none"/>
<path d="M262.4,261 H272.4" stroke="#555" stroke-width="1.0" fill="none"/>
<circle cx="303.2" cy="278.2" r="1.6" fill="#000"/>
<circle cx="309.8" cy="275.9" r="1.6" fill="#000"/>
<circle cx="307" cy="282.9" r="1.6" fill="#000"/>
<circle cx="307" cy="288.5" r="1.6" fill="#000"/>
<circle cx="303.2" cy="302.3" r="1.6" fill="#000"/>
<circle cx="309.8" cy="300.4" r="1.6" fill="#000"/>
<path d="M307,283.5 V292.9 M302.6,283.5 H311.4" stroke="#000" stroke-width="1.0" fill="none"/>
<path d="M302.6,292.9 H311.4" stroke="#555" stroke-width="1.0" fill="none"/>
<path d="M325,303.74 L328.4,303.74 L326.7,306.63Z" fill="#000"/>
<path d="M333.1,301.84 L336.5,301.84 L334.8,304.73Z" fill="#000"/>
<path d="M317.9,322.44 L321.3,322.44 L319.6,325.33Z" fill="#000"/>
<path d="M324.8,323.24 L328.2,323.24 L326.5,326.13Z" fill="#000"/>
<path d="M330.2,322.44 L333.6,322.44 L331.9,325.33Z" fill="#000"/>
<path d="M327.2,313 V321.1 M323.9,313 H330.5" stroke="#000" stroke-width="1.0" fill="none"/>
<path d="M323.9,321.1 H330.5" stroke="#555" stroke-width="1.0" fill="none"/>
<path d="M247.4,222.1 V218.4 H306.5 V222.1" fill="none" stroke="#b81c26" stroke-width="1.2"/>
<text x="277.2" y="215.6" text-anchor="middle" style="font: italic bold 7.0px 'Liberation Sans', Arial, sans-serif; fill:#b81c26; stroke:#b81c26; stroke-width:0.12">p=0.046</text>
<path d="M247.4,240.8 V236.6 H265.5 V240.8" fill="none" stroke="#b81c26" stroke-width="1.2"/>
<text x="256.5" y="234" text-anchor="middle" style="font: italic bold 7.0px 'Liberation Sans', Arial, sans-serif; fill:#b81c26; stroke:#b81c26; stroke-width:0.12">p=0.008</text>
<path d="M268.2,240.8 V236.6 H327.4 V240.8" fill="none" stroke="#b81c26" stroke-width="1.2"/>
<text x="298" y="234" text-anchor="middle" style="font: italic bold 7.0px 'Liberation Sans', Arial, sans-serif; fill:#b81c26; stroke:#b81c26; stroke-width:0.12">p=0.0001</text>
<path d="M307.9,267.9 V264.1 H325.4 V267.9" fill="none" stroke="#b81c26" stroke-width="1.2"/>
<text x="316.9" y="259.8" text-anchor="middle" style="font: italic bold 7.0px 'Liberation Sans', Arial, sans-serif; fill:#b81c26; stroke:#b81c26; stroke-width:0.12">p=0.001</text>
<circle cx="328.3" cy="211.3" r="1.6" fill="#000"/>
<text x="333.4" y="213.8" style="font: italic 7.4px 'Liberation Sans', Arial, sans-serif; fill:#111; stroke:#111; stroke-width:0.1">Sed</text>
<rect x="324" y="219.9" width="23" height="9" fill="#d6d6d6"/>
<path d="M326.5,223.16 L330.1,223.16 L328.3,226.22Z" fill="#000"/>
<text x="333" y="227.2" style="font: italic 7.4px 'Liberation Sans', Arial, sans-serif; fill:#111; stroke:#111; stroke-width:0.1">ExT</text>
<text x="258.1" y="360.4" text-anchor="middle" style="font: bold 9.5px 'Liberation Sans', Arial, sans-serif">Wildtype</text>
<text x="317.6" y="360.4" text-anchor="middle" style="font: bold 9.5px 'Liberation Sans', Arial, sans-serif">Nrf2-KO</text>
<text x="358.0" y="17.9" style="font: 12.2px 'Liberation Sans', Arial, sans-serif">(D)</text>
<svg x="363.2" y="25.8" width="85.6" height="85.3" viewBox="0 0 86 86" preserveAspectRatio="none">
<rect width="86" height="86" fill="#0a0000"/>
<filter id="bda" filterUnits="userSpaceOnUse" x="0" y="0" width="86" height="86"><feTurbulence type="fractalNoise" baseFrequency="0.28" numOctaves="2" seed="3" result="n"/><feColorMatrix in="n" type="matrix" values="0 0 0 0 0  0 0 0 0 0  0 0 0 0 0  3.2 0 0 0 -1.05" result="m"/><feComposite in="SourceGraphic" in2="m" operator="in" result="c"/><feGaussianBlur in="c" stdDeviation="0.55"/></filter>
<g fill="none" stroke="#e8101a" stroke-linecap="round" stroke-linejoin="round">
<g stroke-width="4.2" filter="url(#mg1)"><path d="M11.6,43.7 C12.47,45.35 15.37,49.93 16.8,53.6 C18.23,57.27 18.18,63.48 20.2,65.7 C22.22,67.92 26.48,67.57 28.9,66.9 C31.32,66.23 33.35,64.32 34.7,61.7 C36.05,59.08 36.62,54.48 37,51.2 C37.38,47.92 37.05,44.13 37,42 C36.95,39.87 36.75,39 36.7,38.4" stroke-opacity="0.11"/><path d="M17,27 C16.23,28.7 13.3,34.42 12.4,37.2 C11.5,39.98 11.73,42.62 11.6,43.7" stroke-opacity="0.07"/><path d="M17,27 C17.93,27.58 20.55,29.35 22.6,30.5 C24.65,31.65 26.95,32.58 29.3,33.9 C31.65,35.22 35.47,37.65 36.7,38.4" stroke-opacity="0.08"/><path d="M17,27 C17.45,24.38 19.03,15.47 19.7,11.3 C20.37,7.13 20.78,3.55 21,2" stroke-opacity="0.04"/><path d="M36.7,38.4 C37.75,37 40.82,31.9 43,30 C45.18,28.1 47.35,29 49.8,27 C52.25,25 56.38,19.5 57.7,18" stroke-opacity="0.05"/><path d="M57.7,18 C58.42,17.17 60.4,14.22 62,13 C63.6,11.78 64.82,10.8 67.3,10.7 C69.78,10.6 73.78,11.37 76.9,12.4 C80.02,13.43 84.48,16.15 86,16.9" stroke-opacity="0.07"/><path d="M57.7,18 C58.63,19.33 61.92,24 63.3,26 C64.68,28 65.55,29.33 66,30" stroke-opacity="0.07"/><path d="M76.9,33.9 L86,30.5" stroke-opacity="0.05"/><path d="M39.9,59.3 C41.57,58.53 45.53,56.43 49.9,54.7 C54.27,52.97 61.85,50.05 66.1,48.9 C70.35,47.75 73.85,47.98 75.4,47.8" stroke-opacity="0.04"/><path d="M28.9,66.9 C29.28,68.15 30.52,71.38 31.2,74.4 C31.88,77.42 32.7,83.23 33,85" stroke-opacity="0.04"/><path d="M52,82 C52.43,81.7 53.02,80.6 54.6,80.2 C56.18,79.8 59.38,79.8 61.5,79.6 C63.62,79.4 65.38,78.72 67.3,79 C69.22,79.28 71.27,80.53 73,81.3 C74.73,82.07 76.92,83.22 77.7,83.6" stroke-opacity="0.09"/><path d="M75.4,47.8 C75.78,50.12 76.93,58 77.7,61.7 C78.47,65.4 79.62,68.62 80,70" stroke-opacity="0.04"/><path d="M0,37 C1,37.17 3.93,37.97 6,38 C8.07,38.03 11.33,37.33 12.4,37.2" stroke-opacity="0.04"/><path d="M34,0 C34.67,0.67 36.32,2.68 38,4 C39.68,5.32 42.1,6.9 44.1,7.9 C46.1,8.9 49.02,9.65 50,10" stroke-opacity="0.04"/><path d="M37,51.2 C38.5,50.83 43.07,49.87 46,49 C48.93,48.13 51.77,46.83 54.6,46 C57.43,45.17 60.18,44.67 63,44 C65.82,43.33 67.67,42.83 71.5,42 C75.33,41.17 83.58,39.5 86,39" stroke-opacity="0.04"/><path d="M57.7,18 C57.75,19.67 58.45,24.33 58,28 C57.55,31.67 55.57,37 55,40 C54.43,43 54.67,45 54.6,46" stroke-opacity="0.04"/><path d="M71.5,42 C71.98,44.17 73.37,51.72 74.4,55 C75.43,58.28 77.15,60.58 77.7,61.7" stroke-opacity="0.04"/><path d="M29.7,67.5 C31.42,67.75 36.62,68.92 40,69 C43.38,69.08 46.17,68.67 50,68 C53.83,67.33 59.42,66.33 63,65 C66.58,63.67 70.08,60.83 71.5,60" stroke-opacity="0.04"/><path d="M48.9,68 L51.7,81.5" stroke-opacity="0.04"/><path d="M66,76 C67.67,76.17 72.67,76.5 76,77 C79.33,77.5 84.33,78.67 86,79" stroke-opacity="0.04"/><path d="M0,58 C0.83,57.67 3.07,57 5,56 C6.93,55 10.5,52.67 11.6,52" stroke-opacity="0.04"/></g>
<g stroke-width="1.2" opacity="0.95" filter="url(#mg2)"><path d="M11.6,43.7 C12.47,45.35 15.37,49.93 16.8,53.6 C18.23,57.27 18.18,63.48 20.2,65.7 C22.22,67.92 26.48,67.57 28.9,66.9 C31.32,66.23 33.35,64.32 34.7,61.7 C36.05,59.08 36.62,54.48 37,51.2 C37.38,47.92 37.05,44.13 37,42 C36.95,39.87 36.75,39 36.7,38.4" stroke-opacity="0.19"/><path d="M17,27 C16.23,28.7 13.3,34.42 12.4,37.2 C11.5,39.98 11.73,42.62 11.6,43.7" stroke-opacity="0.11"/><path d="M17,27 C17.93,27.58 20.55,29.35 22.6,30.5 C24.65,31.65 26.95,32.58 29.3,33.9 C31.65,35.22 35.47,37.65 36.7,38.4" stroke-opacity="0.14"/><path d="M17,27 C17.45,24.38 19.03,15.47 19.7,11.3 C20.37,7.13 20.78,3.55 21,2" stroke-opacity="0.07"/><path d="M36.7,38.4 C37.75,37 40.82,31.9 43,30 C45.18,28.1 47.35,29 49.8,27 C52.25,25 56.38,19.5 57.7,18" stroke-opacity="0.09"/><path d="M57.7,18 C58.42,17.17 60.4,14.22 62,13 C63.6,11.78 64.82,10.8 67.3,10.7 C69.78,10.6 73.78,11.37 76.9,12.4 C80.02,13.43 84.48,16.15 86,16.9" stroke-opacity="0.11"/><path d="M57.7,18 C58.63,19.33 61.92,24 63.3,26 C64.68,28 65.55,29.33 66,30" stroke-opacity="0.12"/><path d="M76.9,33.9 L86,30.5" stroke-opacity="0.09"/><path d="M39.9,59.3 C41.57,58.53 45.53,56.43 49.9,54.7 C54.27,52.97 61.85,50.05 66.1,48.9 C70.35,47.75 73.85,47.98 75.4,47.8" stroke-opacity="0.07"/><path d="M28.9,66.9 C29.28,68.15 30.52,71.38 31.2,74.4 C31.88,77.42 32.7,83.23 33,85" stroke-opacity="0.07"/><path d="M52,82 C52.43,81.7 53.02,80.6 54.6,80.2 C56.18,79.8 59.38,79.8 61.5,79.6 C63.62,79.4 65.38,78.72 67.3,79 C69.22,79.28 71.27,80.53 73,81.3 C74.73,82.07 76.92,83.22 77.7,83.6" stroke-opacity="0.15"/><path d="M75.4,47.8 C75.78,50.12 76.93,58 77.7,61.7 C78.47,65.4 79.62,68.62 80,70" stroke-opacity="0.07"/><path d="M0,37 C1,37.17 3.93,37.97 6,38 C8.07,38.03 11.33,37.33 12.4,37.2" stroke-opacity="0.07"/><path d="M34,0 C34.67,0.67 36.32,2.68 38,4 C39.68,5.32 42.1,6.9 44.1,7.9 C46.1,8.9 49.02,9.65 50,10" stroke-opacity="0.06"/><path d="M37,51.2 C38.5,50.83 43.07,49.87 46,49 C48.93,48.13 51.77,46.83 54.6,46 C57.43,45.17 60.18,44.67 63,44 C65.82,43.33 67.67,42.83 71.5,42 C75.33,41.17 83.58,39.5 86,39" stroke-opacity="0.07"/><path d="M57.7,18 C57.75,19.67 58.45,24.33 58,28 C57.55,31.67 55.57,37 55,40 C54.43,43 54.67,45 54.6,46" stroke-opacity="0.07"/><path d="M71.5,42 C71.98,44.17 73.37,51.72 74.4,55 C75.43,58.28 77.15,60.58 77.7,61.7" stroke-opacity="0.06"/><path d="M29.7,67.5 C31.42,67.75 36.62,68.92 40,69 C43.38,69.08 46.17,68.67 50,68 C53.83,67.33 59.42,66.33 63,65 C66.58,63.67 70.08,60.83 71.5,60" stroke-opacity="0.07"/><path d="M48.9,68 L51.7,81.5" stroke-opacity="0.06"/><path d="M66,76 C67.67,76.17 72.67,76.5 76,77 C79.33,77.5 84.33,78.67 86,79" stroke-opacity="0.06"/><path d="M0,58 C0.83,57.67 3.07,57 5,56 C6.93,55 10.5,52.67 11.6,52" stroke-opacity="0.06"/></g>
<g stroke-width="1.8" opacity="0.6" filter="url(#bda)"><path d="M11.6,43.7 C12.47,45.35 15.37,49.93 16.8,53.6 C18.23,57.27 18.18,63.48 20.2,65.7 C22.22,67.92 26.48,67.57 28.9,66.9 C31.32,66.23 33.35,64.32 34.7,61.7 C36.05,59.08 36.62,54.48 37,51.2 C37.38,47.92 37.05,44.13 37,42 C36.95,39.87 36.75,39 36.7,38.4" stroke-opacity="0.19"/><path d="M17,27 C16.23,28.7 13.3,34.42 12.4,37.2 C11.5,39.98 11.73,42.62 11.6,43.7" stroke-opacity="0.11"/><path d="M17,27 C17.93,27.58 20.55,29.35 22.6,30.5 C24.65,31.65 26.95,32.58 29.3,33.9 C31.65,35.22 35.47,37.65 36.7,38.4" stroke-opacity="0.14"/><path d="M17,27 C17.45,24.38 19.03,15.47 19.7,11.3 C20.37,7.13 20.78,3.55 21,2" stroke-opacity="0.07"/><path d="M36.7,38.4 C37.75,37 40.82,31.9 43,30 C45.18,28.1 47.35,29 49.8,27 C52.25,25 56.38,19.5 57.7,18" stroke-opacity="0.09"/><path d="M57.7,18 C58.42,17.17 60.4,14.22 62,13 C63.6,11.78 64.82,10.8 67.3,10.7 C69.78,10.6 73.78,11.37 76.9,12.4 C80.02,13.43 84.48,16.15 86,16.9" stroke-opacity="0.11"/><path d="M57.7,18 C58.63,19.33 61.92,24 63.3,26 C64.68,28 65.55,29.33 66,30" stroke-opacity="0.12"/><path d="M76.9,33.9 L86,30.5" stroke-opacity="0.09"/><path d="M39.9,59.3 C41.57,58.53 45.53,56.43 49.9,54.7 C54.27,52.97 61.85,50.05 66.1,48.9 C70.35,47.75 73.85,47.98 75.4,47.8" stroke-opacity="0.07"/><path d="M28.9,66.9 C29.28,68.15 30.52,71.38 31.2,74.4 C31.88,77.42 32.7,83.23 33,85" stroke-opacity="0.07"/><path d="M52,82 C52.43,81.7 53.02,80.6 54.6,80.2 C56.18,79.8 59.38,79.8 61.5,79.6 C63.62,79.4 65.38,78.72 67.3,79 C69.22,79.28 71.27,80.53 73,81.3 C74.73,82.07 76.92,83.22 77.7,83.6" stroke-opacity="0.15"/><path d="M75.4,47.8 C75.78,50.12 76.93,58 77.7,61.7 C78.47,65.4 79.62,68.62 80,70" stroke-opacity="0.07"/><path d="M0,37 C1,37.17 3.93,37.97 6,38 C8.07,38.03 11.33,37.33 12.4,37.2" stroke-opacity="0.07"/><path d="M34,0 C34.67,0.67 36.32,2.68 38,4 C39.68,5.32 42.1,6.9 44.1,7.9 C46.1,8.9 49.02,9.65 50,10" stroke-opacity="0.06"/><path d="M37,51.2 C38.5,50.83 43.07,49.87 46,49 C48.93,48.13 51.77,46.83 54.6,46 C57.43,45.17 60.18,44.67 63,44 C65.82,43.33 67.67,42.83 71.5,42 C75.33,41.17 83.58,39.5 86,39" stroke-opacity="0.07"/><path d="M57.7,18 C57.75,19.67 58.45,24.33 58,28 C57.55,31.67 55.57,37 55,40 C54.43,43 54.67,45 54.6,46" stroke-opacity="0.07"/><path d="M71.5,42 C71.98,44.17 73.37,51.72 74.4,55 C75.43,58.28 77.15,60.58 77.7,61.7" stroke-opacity="0.06"/><path d="M29.7,67.5 C31.42,67.75 36.62,68.92 40,69 C43.38,69.08 46.17,68.67 50,68 C53.83,67.33 59.42,66.33 63,65 C66.58,63.67 70.08,60.83 71.5,60" stroke-opacity="0.07"/><path d="M48.9,68 L51.7,81.5" stroke-opacity="0.06"/><path d="M66,76 C67.67,76.17 72.67,76.5 76,77 C79.33,77.5 84.33,78.67 86,79" stroke-opacity="0.06"/><path d="M0,58 C0.83,57.67 3.07,57 5,56 C6.93,55 10.5,52.67 11.6,52" stroke-opacity="0.06"/></g>
</g>
<g fill="#ff1a24" filter="url(#mg2)"><circle cx="36.7" cy="39.5" r="1.52" fill-opacity="0.8"/><circle cx="20.2" cy="65.7" r="1.23" fill-opacity="0.72"/><circle cx="28.9" cy="66.9" r="1.23" fill-opacity="0.72"/><circle cx="39.9" cy="59.3" r="1.33" fill-opacity="0.72"/><circle cx="7.5" cy="67.4" r="1.14" fill-opacity="0.48"/><circle cx="67.3" cy="10.7" r="1.23" fill-opacity="0.48"/><circle cx="63.3" cy="26" r="1.14" fill-opacity="0.56"/><circle cx="77.7" cy="61.7" r="1.33" fill-opacity="0.56"/><circle cx="61.5" cy="79.6" r="1.33" fill-opacity="0.72"/><circle cx="44.1" cy="7.9" r="0.95" fill-opacity="0.4"/><circle cx="16.8" cy="53.6" r="1.04" fill-opacity="0.48"/><circle cx="12.4" cy="35" r="0.95" fill-opacity="0.4"/><circle cx="17" cy="27" r="1.14" fill-opacity="0.48"/></g>
<rect x="37.6" y="80.2" width="11.3" height="1.8" fill="#e4dcdc"/>
<g fill="#9a9a9a"><circle cx="37.4" cy="83.7" r="0.65"/><circle cx="42.8" cy="83.7" r="0.65"/><circle cx="48.1" cy="83.7" r="0.65"/></g>
</svg>
<text x="367" y="35.6" style="font: bold 7.0px 'Liberation Sans', Arial, sans-serif; fill:#fff" textLength="28" lengthAdjust="spacingAndGlyphs"><tspan style="font-style:italic">a</tspan>, WT-Sed</text>
<svg x="452.4" y="25.8" width="85.6" height="85.3" viewBox="0 0 86 86" preserveAspectRatio="none">
<rect width="86" height="86" fill="#0a0000"/>
<filter id="bdb" filterUnits="userSpaceOnUse" x="0" y="0" width="86" height="86"><feTurbulence type="fractalNoise" baseFrequency="0.28" numOctaves="2" seed="7" result="n"/><feColorMatrix in="n" type="matrix" values="0 0 0 0 0  0 0 0 0 0  0 0 0 0 0  3.2 0 0 0 -1.05" result="m"/><feComposite in="SourceGraphic" in2="m" operator="in" result="c"/><feGaussianBlur in="c" stdDeviation="0.55"/></filter>
<g fill="none" stroke="#e8101a" stroke-linecap="round" stroke-linejoin="round">
<g stroke-width="4.2" filter="url(#mg1)"><path d="M22,46.6 C21.9,48.33 21.6,53.92 21.4,57 C21.2,60.08 21.48,62.78 20.8,65.1 C20.12,67.42 18.45,69.25 17.3,70.9 C16.15,72.55 15.12,73.48 13.9,75 C12.68,76.52 10.65,79.17 10,80" stroke-opacity="0.1"/><path d="M4.5,20.3 C6,19.37 9.55,15.45 13.5,14.7 C17.45,13.95 24.05,13.75 28.2,15.8 C32.35,17.85 35.93,25.68 38.4,27 C40.87,28.32 42.23,24.25 43,23.7" stroke-opacity="0.04"/><path d="M43,22.6 C44.7,21.93 49.43,18.8 53.2,18.6 C56.97,18.4 62.03,20.08 65.6,21.4 C69.17,22.72 71.2,25.73 74.6,26.5 C78,27.27 84.1,26.08 86,26" stroke-opacity="0.07"/><path d="M53.2,18.6 C53,16.83 52.37,11.1 52,8 C51.63,4.9 51.17,1.33 51,0" stroke-opacity="0.04"/><path d="M74.6,26.5 L75.5,37.2" stroke-opacity="0.05"/><path d="M65.6,42 C67.1,41.2 71.2,37.8 74.6,37.2 C78,36.6 84.1,38.2 86,38.4" stroke-opacity="0.08"/><path d="M24.9,67.4 C26.15,66.83 29.9,65.05 32.4,64 C34.9,62.95 38.13,61.68 39.9,61.1 C41.67,60.52 39.78,61.37 43,60.5 C46.22,59.63 56.5,56.67 59.2,55.9" stroke-opacity="0.08"/><path d="M2.3,62.2 C2.88,64.03 4.65,70.78 5.8,73.2 C6.95,75.62 8.63,76.12 9.2,76.7" stroke-opacity="0.07"/><path d="M43,23.7 C43.75,25.4 47.17,30.85 47.5,33.9 C47.83,36.95 46.58,39.98 45,42 C43.42,44.02 39.17,45.33 38,46" stroke-opacity="0.04"/><path d="M22,46.6 C23,45.5 26.02,41.75 28,40 C29.98,38.25 32.92,36.75 33.9,36.1" stroke-opacity="0.04"/><path d="M62,43 C62.08,45 62.2,50.17 62.5,55 C62.8,59.83 63.58,69.17 63.8,72" stroke-opacity="0.04"/><path d="M76,70 C76.67,70.83 78.83,73.67 80,75 C81.17,76.33 82.5,77.5 83,78" stroke-opacity="0.07"/><path d="M77,1 L86,1.5" stroke-opacity="0.05"/><path d="M22,46.6 C23.33,46.83 27.17,47.83 30,48 C32.83,48.17 36,48.27 39,47.6 C42,46.93 45.18,44.95 48,44 C50.82,43.05 53.23,41.98 55.9,41.9 C58.57,41.82 62.65,43.23 64,43.5" stroke-opacity="0.04"/><path d="M39,47.6 C38.53,49 36.67,53.17 36.2,56 C35.73,58.83 35.57,63.75 36.2,64.6 C36.83,65.45 39.37,61.68 40,61.1" stroke-opacity="0.04"/><path d="M13.5,14.7 C14.08,16.25 16.05,21.12 17,24 C17.95,26.88 18.37,28.23 19.2,32 C20.03,35.77 21.53,44.17 22,46.6" stroke-opacity="0.04"/><path d="M75.5,37.2 C76.25,38.83 78.25,44.03 80,47 C81.75,49.97 85,53.67 86,55" stroke-opacity="0.04"/><path d="M40,61.1 C40.67,62.58 43.22,67.07 44,70 C44.78,72.93 44.37,76.03 44.7,78.7 C45.03,81.37 45.78,84.78 46,86" stroke-opacity="0.04"/><path d="M59.2,55.9 C60.33,56.58 63.7,58.98 66,60 C68.3,61.02 70.67,61 73,62 C75.33,63 77.83,65.17 80,66 C82.17,66.83 85,66.83 86,67" stroke-opacity="0.04"/></g>
<g stroke-width="1.2" opacity="0.95" filter="url(#mg2)"><path d="M22,46.6 C21.9,48.33 21.6,53.92 21.4,57 C21.2,60.08 21.48,62.78 20.8,65.1 C20.12,67.42 18.45,69.25 17.3,70.9 C16.15,72.55 15.12,73.48 13.9,75 C12.68,76.52 10.65,79.17 10,80" stroke-opacity="0.17"/><path d="M4.5,20.3 C6,19.37 9.55,15.45 13.5,14.7 C17.45,13.95 24.05,13.75 28.2,15.8 C32.35,17.85 35.93,25.68 38.4,27 C40.87,28.32 42.23,24.25 43,23.7" stroke-opacity="0.07"/><path d="M43,22.6 C44.7,21.93 49.43,18.8 53.2,18.6 C56.97,18.4 62.03,20.08 65.6,21.4 C69.17,22.72 71.2,25.73 74.6,26.5 C78,27.27 84.1,26.08 86,26" stroke-opacity="0.11"/><path d="M53.2,18.6 C53,16.83 52.37,11.1 52,8 C51.63,4.9 51.17,1.33 51,0" stroke-opacity="0.07"/><path d="M74.6,26.5 L75.5,37.2" stroke-opacity="0.09"/><path d="M65.6,42 C67.1,41.2 71.2,37.8 74.6,37.2 C78,36.6 84.1,38.2 86,38.4" stroke-opacity="0.14"/><path d="M24.9,67.4 C26.15,66.83 29.9,65.05 32.4,64 C34.9,62.95 38.13,61.68 39.9,61.1 C41.67,60.52 39.78,61.37 43,60.5 C46.22,59.63 56.5,56.67 59.2,55.9" stroke-opacity="0.14"/><path d="M2.3,62.2 C2.88,64.03 4.65,70.78 5.8,73.2 C6.95,75.62 8.63,76.12 9.2,76.7" stroke-opacity="0.11"/><path d="M43,23.7 C43.75,25.4 47.17,30.85 47.5,33.9 C47.83,36.95 46.58,39.98 45,42 C43.42,44.02 39.17,45.33 38,46" stroke-opacity="0.07"/><path d="M22,46.6 C23,45.5 26.02,41.75 28,40 C29.98,38.25 32.92,36.75 33.9,36.1" stroke-opacity="0.07"/><path d="M62,43 C62.08,45 62.2,50.17 62.5,55 C62.8,59.83 63.58,69.17 63.8,72" stroke-opacity="0.07"/><path d="M76,70 C76.67,70.83 78.83,73.67 80,75 C81.17,76.33 82.5,77.5 83,78" stroke-opacity="0.11"/><path d="M77,1 L86,1.5" stroke-opacity="0.09"/><path d="M22,46.6 C23.33,46.83 27.17,47.83 30,48 C32.83,48.17 36,48.27 39,47.6 C42,46.93 45.18,44.95 48,44 C50.82,43.05 53.23,41.98 55.9,41.9 C58.57,41.82 62.65,43.23 64,43.5" stroke-opacity="0.07"/><path d="M39,47.6 C38.53,49 36.67,53.17 36.2,56 C35.73,58.83 35.57,63.75 36.2,64.6 C36.83,65.45 39.37,61.68 40,61.1" stroke-opacity="0.06"/><path d="M13.5,14.7 C14.08,16.25 16.05,21.12 17,24 C17.95,26.88 18.37,28.23 19.2,32 C20.03,35.77 21.53,44.17 22,46.6" stroke-opacity="0.06"/><path d="M75.5,37.2 C76.25,38.83 78.25,44.03 80,47 C81.75,49.97 85,53.67 86,55" stroke-opacity="0.06"/><path d="M40,61.1 C40.67,62.58 43.22,67.07 44,70 C44.78,72.93 44.37,76.03 44.7,78.7 C45.03,81.37 45.78,84.78 46,86" stroke-opacity="0.06"/><path d="M59.2,55.9 C60.33,56.58 63.7,58.98 66,60 C68.3,61.02 70.67,61 73,62 C75.33,63 77.83,65.17 80,66 C82.17,66.83 85,66.83 86,67" stroke-opacity="0.06"/></g>
<g stroke-width="1.8" opacity="0.6" filter="url(#bdb)"><path d="M22,46.6 C21.9,48.33 21.6,53.92 21.4,57 C21.2,60.08 21.48,62.78 20.8,65.1 C20.12,67.42 18.45,69.25 17.3,70.9 C16.15,72.55 15.12,73.48 13.9,75 C12.68,76.52 10.65,79.17 10,80" stroke-opacity="0.17"/><path d="M4.5,20.3 C6,19.37 9.55,15.45 13.5,14.7 C17.45,13.95 24.05,13.75 28.2,15.8 C32.35,17.85 35.93,25.68 38.4,27 C40.87,28.32 42.23,24.25 43,23.7" stroke-opacity="0.07"/><path d="M43,22.6 C44.7,21.93 49.43,18.8 53.2,18.6 C56.97,18.4 62.03,20.08 65.6,21.4 C69.17,22.72 71.2,25.73 74.6,26.5 C78,27.27 84.1,26.08 86,26" stroke-opacity="0.11"/><path d="M53.2,18.6 C53,16.83 52.37,11.1 52,8 C51.63,4.9 51.17,1.33 51,0" stroke-opacity="0.07"/><path d="M74.6,26.5 L75.5,37.2" stroke-opacity="0.09"/><path d="M65.6,42 C67.1,41.2 71.2,37.8 74.6,37.2 C78,36.6 84.1,38.2 86,38.4" stroke-opacity="0.14"/><path d="M24.9,67.4 C26.15,66.83 29.9,65.05 32.4,64 C34.9,62.95 38.13,61.68 39.9,61.1 C41.67,60.52 39.78,61.37 43,60.5 C46.22,59.63 56.5,56.67 59.2,55.9" stroke-opacity="0.14"/><path d="M2.3,62.2 C2.88,64.03 4.65,70.78 5.8,73.2 C6.95,75.62 8.63,76.12 9.2,76.7" stroke-opacity="0.11"/><path d="M43,23.7 C43.75,25.4 47.17,30.85 47.5,33.9 C47.83,36.95 46.58,39.98 45,42 C43.42,44.02 39.17,45.33 38,46" stroke-opacity="0.07"/><path d="M22,46.6 C23,45.5 26.02,41.75 28,40 C29.98,38.25 32.92,36.75 33.9,36.1" stroke-opacity="0.07"/><path d="M62,43 C62.08,45 62.2,50.17 62.5,55 C62.8,59.83 63.58,69.17 63.8,72" stroke-opacity="0.07"/><path d="M76,70 C76.67,70.83 78.83,73.67 80,75 C81.17,76.33 82.5,77.5 83,78" stroke-opacity="0.11"/><path d="M77,1 L86,1.5" stroke-opacity="0.09"/><path d="M22,46.6 C23.33,46.83 27.17,47.83 30,48 C32.83,48.17 36,48.27 39,47.6 C42,46.93 45.18,44.95 48,44 C50.82,43.05 53.23,41.98 55.9,41.9 C58.57,41.82 62.65,43.23 64,43.5" stroke-opacity="0.07"/><path d="M39,47.6 C38.53,49 36.67,53.17 36.2,56 C35.73,58.83 35.57,63.75 36.2,64.6 C36.83,65.45 39.37,61.68 40,61.1" stroke-opacity="0.06"/><path d="M13.5,14.7 C14.08,16.25 16.05,21.12 17,24 C17.95,26.88 18.37,28.23 19.2,32 C20.03,35.77 21.53,44.17 22,46.6" stroke-opacity="0.06"/><path d="M75.5,37.2 C76.25,38.83 78.25,44.03 80,47 C81.75,49.97 85,53.67 86,55" stroke-opacity="0.06"/><path d="M40,61.1 C40.67,62.58 43.22,67.07 44,70 C44.78,72.93 44.37,76.03 44.7,78.7 C45.03,81.37 45.78,84.78 46,86" stroke-opacity="0.06"/><path d="M59.2,55.9 C60.33,56.58 63.7,58.98 66,60 C68.3,61.02 70.67,61 73,62 C75.33,63 77.83,65.17 80,66 C82.17,66.83 85,66.83 86,67" stroke-opacity="0.06"/></g>
</g>
<g fill="#ff1a24" filter="url(#mg2)"><circle cx="22" cy="46.6" r="1.42" fill-opacity="0.72"/><circle cx="24.9" cy="67.4" r="1.52" fill-opacity="0.8"/><circle cx="39.9" cy="61.1" r="1.14" fill-opacity="0.48"/><circle cx="2.3" cy="62.2" r="1.14" fill-opacity="0.48"/><circle cx="2.8" cy="36.1" r="0.95" fill-opacity="0.4"/><circle cx="33.9" cy="36.1" r="0.95" fill-opacity="0.4"/><circle cx="53.2" cy="18.6" r="1.04" fill-opacity="0.4"/><circle cx="62" cy="43" r="1.04" fill-opacity="0.4"/><circle cx="62.1" cy="67.4" r="1.23" fill-opacity="0.56"/><circle cx="63.8" cy="72" r="1.33" fill-opacity="0.64"/><circle cx="80" cy="75" r="1.42" fill-opacity="0.64"/><circle cx="74.6" cy="37.2" r="1.14" fill-opacity="0.48"/><circle cx="13.9" cy="75" r="0.95" fill-opacity="0.4"/></g>
<rect x="37.6" y="80.2" width="11.3" height="1.8" fill="#e4dcdc"/>
<g fill="#9a9a9a"><circle cx="37.4" cy="83.7" r="0.65"/><circle cx="42.8" cy="83.7" r="0.65"/><circle cx="48.1" cy="83.7" r="0.65"/></g>
</svg>
<text x="456.2" y="35.6" style="font: bold 7.0px 'Liberation Sans', Arial, sans-serif; fill:#fff" textLength="28" lengthAdjust="spacingAndGlyphs"><tspan style="font-style:italic">b</tspan>, WT-ExT</text>
<svg x="363.2" y="114.5" width="85.6" height="85.3" viewBox="0 0 86 86" preserveAspectRatio="none">
<rect width="86" height="86" fill="#0a0000"/>
<filter id="bdc" filterUnits="userSpaceOnUse" x="0" y="0" width="86" height="86"><feTurbulence type="fractalNoise" baseFrequency="0.28" numOctaves="2" seed="11" result="n"/><feColorMatrix in="n" type="matrix" values="0 0 0 0 0  0 0 0 0 0  0 0 0 0 0  3.2 0 0 0 -1.05" result="m"/><feComposite in="SourceGraphic" in2="m" operator="in" result="c"/><feGaussianBlur in="c" stdDeviation="0.55"/></filter>
<g fill="none" stroke="#e8101a" stroke-linecap="round" stroke-linejoin="round">
<g stroke-width="4.2" filter="url(#mg1)"><path d="M1.2,13.9 C1.77,14.87 3.45,18.17 4.6,19.7 C5.75,21.23 6.17,22.72 8.1,23.1 C10.03,23.48 14.85,22.18 16.2,22" stroke-opacity="0.14"/><path d="M16.2,22 C16.38,23.15 17.02,26.78 17.3,28.9 C17.58,31.02 17.7,32.35 17.9,34.7 C18.1,37.05 18.4,39.68 18.5,43 C18.6,46.32 18.7,51.72 18.5,54.6 C18.3,57.48 17.5,59.35 17.3,60.3" stroke-opacity="0.16"/><path d="M16.2,22 C17.35,21.22 21.37,18.65 23.1,17.3 C24.83,15.95 25.45,13.9 26.6,13.9 C27.75,13.9 28.47,15.77 30,17.3 C31.53,18.83 35.02,20.98 35.8,23.1 C36.58,25.22 34.88,26.68 34.7,30 C34.52,33.32 34.52,39.3 34.7,43 C34.88,46.7 35.42,49.7 35.8,52.2 C36.18,54.7 36.8,57.03 37,58" stroke-opacity="0.14"/><path d="M26.6,13.9 C26,12.58 24.55,8.32 23,6 C21.45,3.68 18.25,1 17.3,0" stroke-opacity="0.1"/><path d="M35.8,23.1 L43,28.9" stroke-opacity="0.11"/><path d="M38.2,3.5 L43,4.6" stroke-opacity="0.09"/><path d="M43,4.6 C44.73,5.37 51.28,7.47 53.4,9.2 C55.52,10.93 54.93,12.68 55.7,15 C56.47,17.32 57.62,20.2 58,23.1 C58.38,26 58.57,30.28 58,32.4 C57.43,34.52 54.4,34.17 54.6,35.8 C54.8,37.43 58.25,40.42 59.2,42.2 C60.15,43.98 60.12,45.78 60.3,46.5" stroke-opacity="0.15"/><path d="M53.4,9.2 C54.17,8.43 56.65,5.75 58,4.6 C59.35,3.45 60.92,2.68 61.5,2.3" stroke-opacity="0.15"/><path d="M77.7,11.6 C77.42,13.13 76,17.53 76,20.8 C76,24.07 76.45,28.7 77.7,31.2 C78.95,33.7 82.12,34.63 83.5,35.8 C84.88,36.97 85.58,37.8 86,38.2" stroke-opacity="0.15"/><path d="M77.7,11.6 C78.47,11.2 80.92,9.4 82.3,9.2 C83.68,9 85.38,10.2 86,10.4" stroke-opacity="0.13"/><path d="M63.8,23.1 C64.77,22.92 67.57,22.38 69.6,22 C71.63,21.62 74.93,21 76,20.8" stroke-opacity="0.09"/><path d="M77.7,31.2 C76.35,31.58 72.5,32.33 69.6,33.5 C66.7,34.67 61.85,37.42 60.3,38.2" stroke-opacity="0.08"/><path d="M17.3,60.3 C16.35,61.08 13.72,63.65 11.6,65 C9.48,66.35 6.33,67.25 4.6,68.4 C2.87,69.55 1.97,70.73 1.2,71.9 C0.43,73.07 0.2,74.82 0,75.4" stroke-opacity="0.15"/><path d="M1,72 C1.03,73.17 1.12,76.67 1.2,79 C1.28,81.33 1.45,84.83 1.5,86" stroke-opacity="0.15"/><path d="M37,58 C36.42,58.78 34.67,61.35 33.5,62.7 C32.33,64.05 30.58,65.53 30,66.1" stroke-opacity="0.14"/><path d="M37,58 L43,54.6" stroke-opacity="0.1"/><path d="M4.6,43 C5.57,44.33 8.67,48.88 10.4,51 C12.13,53.12 13.85,54.15 15,55.7 C16.15,57.25 16.92,59.53 17.3,60.3" stroke-opacity="0.08"/><path d="M26.6,63.8 C28.53,65.92 35.47,74.18 38.2,76.5 C40.93,78.82 42.2,77.5 43,77.7" stroke-opacity="0.08"/><path d="M60.3,46.5 C61.47,46.58 65.18,46.23 67.3,47 C69.42,47.77 71.27,49.27 73,51.1 C74.73,52.93 76.53,55.68 77.7,58 C78.87,60.32 80,62.88 80,65 C80,67.12 78.47,69.17 77.7,70.7 C76.93,72.23 76.75,73.62 75.4,74.2 C74.05,74.78 71.92,74 69.6,74.2 C67.28,74.4 63.05,75.78 61.5,75.4 C59.95,75.02 60.68,73.45 60.3,71.9 C59.92,70.35 59.38,68.98 59.2,66.1 C59.02,63.22 59.02,57.87 59.2,54.6 C59.38,51.33 60.12,47.85 60.3,46.5" stroke-opacity="0.14"/><path d="M80,65 L86,64" stroke-opacity="0.1"/><path d="M82.3,77.7 L83.5,86" stroke-opacity="0.1"/><path d="M75.4,74.2 L77.7,86" stroke-opacity="0.1"/><path d="M81,0 L86,2.3" stroke-opacity="0.1"/></g>
<g stroke-width="1.5" opacity="0.95" filter="url(#mg2)"><path d="M1.2,13.9 C1.77,14.87 3.45,18.17 4.6,19.7 C5.75,21.23 6.17,22.72 8.1,23.1 C10.03,23.48 14.85,22.18 16.2,22" stroke-opacity="0.23"/><path d="M16.2,22 C16.38,23.15 17.02,26.78 17.3,28.9 C17.58,31.02 17.7,32.35 17.9,34.7 C18.1,37.05 18.4,39.68 18.5,43 C18.6,46.32 18.7,51.72 18.5,54.6 C18.3,57.48 17.5,59.35 17.3,60.3" stroke-opacity="0.27"/><path d="M16.2,22 C17.35,21.22 21.37,18.65 23.1,17.3 C24.83,15.95 25.45,13.9 26.6,13.9 C27.75,13.9 28.47,15.77 30,17.3 C31.53,18.83 35.02,20.98 35.8,23.1 C36.58,25.22 34.88,26.68 34.7,30 C34.52,33.32 34.52,39.3 34.7,43 C34.88,46.7 35.42,49.7 35.8,52.2 C36.18,54.7 36.8,57.03 37,58" stroke-opacity="0.23"/><path d="M26.6,13.9 C26,12.58 24.55,8.32 23,6 C21.45,3.68 18.25,1 17.3,0" stroke-opacity="0.17"/><path d="M35.8,23.1 L43,28.9" stroke-opacity="0.19"/><path d="M38.2,3.5 L43,4.6" stroke-opacity="0.15"/><path d="M43,4.6 C44.73,5.37 51.28,7.47 53.4,9.2 C55.52,10.93 54.93,12.68 55.7,15 C56.47,17.32 57.62,20.2 58,23.1 C58.38,26 58.57,30.28 58,32.4 C57.43,34.52 54.4,34.17 54.6,35.8 C54.8,37.43 58.25,40.42 59.2,42.2 C60.15,43.98 60.12,45.78 60.3,46.5" stroke-opacity="0.25"/><path d="M53.4,9.2 C54.17,8.43 56.65,5.75 58,4.6 C59.35,3.45 60.92,2.68 61.5,2.3" stroke-opacity="0.25"/><path d="M77.7,11.6 C77.42,13.13 76,17.53 76,20.8 C76,24.07 76.45,28.7 77.7,31.2 C78.95,33.7 82.12,34.63 83.5,35.8 C84.88,36.97 85.58,37.8 86,38.2" stroke-opacity="0.25"/><path d="M77.7,11.6 C78.47,11.2 80.92,9.4 82.3,9.2 C83.68,9 85.38,10.2 86,10.4" stroke-opacity="0.21"/><path d="M63.8,23.1 C64.77,22.92 67.57,22.38 69.6,22 C71.63,21.62 74.93,21 76,20.8" stroke-opacity="0.15"/><path d="M77.7,31.2 C76.35,31.58 72.5,32.33 69.6,33.5 C66.7,34.67 61.85,37.42 60.3,38.2" stroke-opacity="0.13"/><path d="M17.3,60.3 C16.35,61.08 13.72,63.65 11.6,65 C9.48,66.35 6.33,67.25 4.6,68.4 C2.87,69.55 1.97,70.73 1.2,71.9 C0.43,73.07 0.2,74.82 0,75.4" stroke-opacity="0.25"/><path d="M1,72 C1.03,73.17 1.12,76.67 1.2,79 C1.28,81.33 1.45,84.83 1.5,86" stroke-opacity="0.25"/><path d="M37,58 C36.42,58.78 34.67,61.35 33.5,62.7 C32.33,64.05 30.58,65.53 30,66.1" stroke-opacity="0.23"/><path d="M37,58 L43,54.6" stroke-opacity="0.17"/><path d="M4.6,43 C5.57,44.33 8.67,48.88 10.4,51 C12.13,53.12 13.85,54.15 15,55.7 C16.15,57.25 16.92,59.53 17.3,60.3" stroke-opacity="0.13"/><path d="M26.6,63.8 C28.53,65.92 35.47,74.18 38.2,76.5 C40.93,78.82 42.2,77.5 43,77.7" stroke-opacity="0.13"/><path d="M60.3,46.5 C61.47,46.58 65.18,46.23 67.3,47 C69.42,47.77 71.27,49.27 73,51.1 C74.73,52.93 76.53,55.68 77.7,58 C78.87,60.32 80,62.88 80,65 C80,67.12 78.47,69.17 77.7,70.7 C76.93,72.23 76.75,73.62 75.4,74.2 C74.05,74.78 71.92,74 69.6,74.2 C67.28,74.4 63.05,75.78 61.5,75.4 C59.95,75.02 60.68,73.45 60.3,71.9 C59.92,70.35 59.38,68.98 59.2,66.1 C59.02,63.22 59.02,57.87 59.2,54.6 C59.38,51.33 60.12,47.85 60.3,46.5" stroke-opacity="0.23"/><path d="M80,65 L86,64" stroke-opacity="0.17"/><path d="M82.3,77.7 L83.5,86" stroke-opacity="0.17"/><path d="M75.4,74.2 L77.7,86" stroke-opacity="0.17"/><path d="M81,0 L86,2.3" stroke-opacity="0.17"/></g>
<g stroke-width="1.8" opacity="0.6" filter="url(#bdc)"><path d="M1.2,13.9 C1.77,14.87 3.45,18.17 4.6,19.7 C5.75,21.23 6.17,22.72 8.1,23.1 C10.03,23.48 14.85,22.18 16.2,22" stroke-opacity="0.23"/><path d="M16.2,22 C16.38,23.15 17.02,26.78 17.3,28.9 C17.58,31.02 17.7,32.35 17.9,34.7 C18.1,37.05 18.4,39.68 18.5,43 C18.6,46.32 18.7,51.72 18.5,54.6 C18.3,57.48 17.5,59.35 17.3,60.3" stroke-opacity="0.27"/><path d="M16.2,22 C17.35,21.22 21.37,18.65 23.1,17.3 C24.83,15.95 25.45,13.9 26.6,13.9 C27.75,13.9 28.47,15.77 30,17.3 C31.53,18.83 35.02,20.98 35.8,23.1 C36.58,25.22 34.88,26.68 34.7,30 C34.52,33.32 34.52,39.3 34.7,43 C34.88,46.7 35.42,49.7 35.8,52.2 C36.18,54.7 36.8,57.03 37,58" stroke-opacity="0.23"/><path d="M26.6,13.9 C26,12.58 24.55,8.32 23,6 C21.45,3.68 18.25,1 17.3,0" stroke-opacity="0.17"/><path d="M35.8,23.1 L43,28.9" stroke-opacity="0.19"/><path d="M38.2,3.5 L43,4.6" stroke-opacity="0.15"/><path d="M43,4.6 C44.73,5.37 51.28,7.47 53.4,9.2 C55.52,10.93 54.93,12.68 55.7,15 C56.47,17.32 57.62,20.2 58,23.1 C58.38,26 58.57,30.28 58,32.4 C57.43,34.52 54.4,34.17 54.6,35.8 C54.8,37.43 58.25,40.42 59.2,42.2 C60.15,43.98 60.12,45.78 60.3,46.5" stroke-opacity="0.25"/><path d="M53.4,9.2 C54.17,8.43 56.65,5.75 58,4.6 C59.35,3.45 60.92,2.68 61.5,2.3" stroke-opacity="0.25"/><path d="M77.7,11.6 C77.42,13.13 76,17.53 76,20.8 C76,24.07 76.45,28.7 77.7,31.2 C78.95,33.7 82.12,34.63 83.5,35.8 C84.88,36.97 85.58,37.8 86,38.2" stroke-opacity="0.25"/><path d="M77.7,11.6 C78.47,11.2 80.92,9.4 82.3,9.2 C83.68,9 85.38,10.2 86,10.4" stroke-opacity="0.21"/><path d="M63.8,23.1 C64.77,22.92 67.57,22.38 69.6,22 C71.63,21.62 74.93,21 76,20.8" stroke-opacity="0.15"/><path d="M77.7,31.2 C76.35,31.58 72.5,32.33 69.6,33.5 C66.7,34.67 61.85,37.42 60.3,38.2" stroke-opacity="0.13"/><path d="M17.3,60.3 C16.35,61.08 13.72,63.65 11.6,65 C9.48,66.35 6.33,67.25 4.6,68.4 C2.87,69.55 1.97,70.73 1.2,71.9 C0.43,73.07 0.2,74.82 0,75.4" stroke-opacity="0.25"/><path d="M1,72 C1.03,73.17 1.12,76.67 1.2,79 C1.28,81.33 1.45,84.83 1.5,86" stroke-opacity="0.25"/><path d="M37,58 C36.42,58.78 34.67,61.35 33.5,62.7 C32.33,64.05 30.58,65.53 30,66.1" stroke-opacity="0.23"/><path d="M37,58 L43,54.6" stroke-opacity="0.17"/><path d="M4.6,43 C5.57,44.33 8.67,48.88 10.4,51 C12.13,53.12 13.85,54.15 15,55.7 C16.15,57.25 16.92,59.53 17.3,60.3" stroke-opacity="0.13"/><path d="M26.6,63.8 C28.53,65.92 35.47,74.18 38.2,76.5 C40.93,78.82 42.2,77.5 43,77.7" stroke-opacity="0.13"/><path d="M60.3,46.5 C61.47,46.58 65.18,46.23 67.3,47 C69.42,47.77 71.27,49.27 73,51.1 C74.73,52.93 76.53,55.68 77.7,58 C78.87,60.32 80,62.88 80,65 C80,67.12 78.47,69.17 77.7,70.7 C76.93,72.23 76.75,73.62 75.4,74.2 C74.05,74.78 71.92,74 69.6,74.2 C67.28,74.4 63.05,75.78 61.5,75.4 C59.95,75.02 60.68,73.45 60.3,71.9 C59.92,70.35 59.38,68.98 59.2,66.1 C59.02,63.22 59.02,57.87 59.2,54.6 C59.38,51.33 60.12,47.85 60.3,46.5" stroke-opacity="0.23"/><path d="M80,65 L86,64" stroke-opacity="0.17"/><path d="M82.3,77.7 L83.5,86" stroke-opacity="0.17"/><path d="M75.4,74.2 L77.7,86" stroke-opacity="0.17"/><path d="M81,0 L86,2.3" stroke-opacity="0.17"/></g>
</g>
<g fill="#ff1a24" filter="url(#mg2)"><circle cx="8.1" cy="23.1" r="1.33" fill-opacity="0.87"/><circle cx="16.2" cy="22" r="1.42" fill-opacity="0.97"/><circle cx="35.8" cy="23.1" r="1.33" fill-opacity="0.87"/><circle cx="17.9" cy="34.7" r="1.23" fill-opacity="0.78"/><circle cx="54.6" cy="35.8" r="1.33" fill-opacity="0.87"/><circle cx="59.2" cy="42.2" r="1.23" fill-opacity="0.87"/><circle cx="61.5" cy="2.3" r="1.23" fill-opacity="0.78"/><circle cx="76" cy="20.8" r="1.33" fill-opacity="0.87"/><circle cx="83.5" cy="35.8" r="1.42" fill-opacity="0.87"/><circle cx="17.3" cy="60.3" r="1.52" fill-opacity="0.97"/><circle cx="13" cy="64" r="1.23" fill-opacity="0.78"/><circle cx="37" cy="58" r="1.42" fill-opacity="0.97"/><circle cx="45.3" cy="52.2" r="1.14" fill-opacity="0.68"/><circle cx="80" cy="65" r="1.42" fill-opacity="0.87"/><circle cx="69.6" cy="74.2" r="1.42" fill-opacity="0.87"/><circle cx="61.5" cy="75.4" r="1.42" fill-opacity="0.97"/><circle cx="60.3" cy="46.5" r="1.14" fill-opacity="0.68"/><circle cx="67.3" cy="47" r="1.14" fill-opacity="0.68"/><circle cx="1" cy="76" r="1.33" fill-opacity="0.78"/><circle cx="77.7" cy="11.6" r="1.14" fill-opacity="0.68"/></g>
<rect x="37.6" y="80.2" width="11.3" height="1.8" fill="#e4dcdc"/>
<g fill="#9a9a9a"><circle cx="37.4" cy="83.7" r="0.65"/><circle cx="42.8" cy="83.7" r="0.65"/><circle cx="48.1" cy="83.7" r="0.65"/></g>
</svg>
<text x="367" y="124.3" style="font: bold 7.0px 'Liberation Sans', Arial, sans-serif; fill:#fff" textLength="28" lengthAdjust="spacingAndGlyphs"><tspan style="font-style:italic">c</tspan>, KO-Sed</text>
<svg x="452.4" y="114.5" width="85.6" height="85.3" viewBox="0 0 86 86" preserveAspectRatio="none">
<rect width="86" height="86" fill="#0a0000"/>
<filter id="bdd" filterUnits="userSpaceOnUse" x="0" y="0" width="86" height="86"><feTurbulence type="fractalNoise" baseFrequency="0.28" numOctaves="2" seed="5" result="n"/><feColorMatrix in="n" type="matrix" values="0 0 0 0 0  0 0 0 0 0  0 0 0 0 0  3.2 0 0 0 -1.05" result="m"/><feComposite in="SourceGraphic" in2="m" operator="in" result="c"/><feGaussianBlur in="c" stdDeviation="0.55"/></filter>
<g fill="none" stroke="#e8101a" stroke-linecap="round" stroke-linejoin="round">
<g stroke-width="4.2" filter="url(#mg1)"><path d="M20.8,23.1 C21.18,22.72 22.13,20.98 23.1,20.8 C24.07,20.62 25.45,20.65 26.6,22 C27.75,23.35 29.03,26.98 30,28.9 C30.97,30.82 31.62,32.15 32.4,33.5 C33.18,34.85 34.13,35.42 34.7,37 C35.27,38.58 35.62,42 35.8,43" stroke-opacity="0.28"/><path d="M20.8,23.1 C20.42,24.25 19.08,27.68 18.5,30 C17.92,32.32 17.68,34.83 17.3,37 C16.92,39.17 16.77,42 16.2,43 C15.63,44 14.28,43 13.9,43" stroke-opacity="0.26"/><path d="M30,28.9 C30.78,28.32 33.33,26.55 34.7,25.4 C36.07,24.25 36.82,23.15 38.2,22 C39.58,20.85 42.2,19.08 43,18.5" stroke-opacity="0.28"/><path d="M52.2,6.9 C53.55,6.13 57.4,3.07 60.3,2.3 C63.2,1.53 66.52,1.33 69.6,2.3 C72.68,3.27 76.87,5.98 78.8,8.1 C80.73,10.22 81,12.5 81.2,15 C81.4,17.5 80.78,20.98 80,23.1 C79.22,25.22 78.62,26.83 76.5,27.7 C74.38,28.57 70,28.48 67.3,28.3 C64.6,28.12 62.62,26.7 60.3,26.6 C57.98,26.5 54.75,28.67 53.4,27.7 C52.05,26.73 52.48,22.92 52.2,20.8 C51.92,18.68 51.7,17.32 51.7,15 C51.7,12.68 52.12,8.25 52.2,6.9" stroke-opacity="0.32"/><path d="M43,18.5 C43.67,18.42 45.27,17.92 47,18 C48.73,18.08 52.33,18.83 53.4,19" stroke-opacity="0.33"/><path d="M43,5.8 C44.17,5.6 48.47,4.42 50,4.6 C51.53,4.78 51.83,6.52 52.2,6.9" stroke-opacity="0.22"/><path d="M76.5,27.7 C76.7,28.87 77.88,32.77 77.7,34.7 C77.52,36.63 76.18,37.92 75.4,39.3 C74.62,40.68 73.58,42.38 73,43 C72.42,43.62 72.47,42.23 71.9,43 C71.33,43.77 70.57,45.67 69.6,47.6 C68.63,49.53 67.25,52.67 66.1,54.6 C64.95,56.53 63.27,58.43 62.7,59.2" stroke-opacity="0.28"/><path d="M77.7,34.7 L86,33.5" stroke-opacity="0.19"/><path d="M53.4,27.7 C53.02,28.67 51.67,30.95 51.1,33.5 C50.53,36.05 50.58,40.83 50,43 C49.42,45.17 47.42,44.57 47.6,46.5 C47.78,48.43 50.13,52.1 51.1,54.6 C52.07,57.1 53.58,59.77 53.4,61.5 C53.22,63.23 50.97,63.08 50,65 C49.03,66.92 48.38,71.08 47.6,73 C46.82,74.92 45.68,75.92 45.3,76.5" stroke-opacity="0.26"/><path d="M78,0 L86,1" stroke-opacity="0.19"/><path d="M13.9,43 C14.47,43.77 16.33,46.15 17.3,47.6 C18.27,49.05 17.77,50.83 19.7,51.7 C21.63,52.57 26.4,53.67 28.9,52.8 C31.4,51.93 33.55,48.13 34.7,46.5 C35.85,44.87 35.62,43.58 35.8,43" stroke-opacity="0.28"/><path d="M19.7,51.7 C19.12,52.95 17.37,57.18 16.2,59.2 C15.03,61.22 14.07,62.83 12.7,63.8 C11.33,64.77 8.78,64.8 8,65" stroke-opacity="0.2"/><path d="M28.9,52.8 C29.08,54.05 29.23,58.08 30,60.3 C30.77,62.52 32.53,64.17 33.5,66.1 C34.47,68.03 35.22,70.17 35.8,71.9 C36.38,73.63 37.97,75.35 37,76.5 C36.03,77.65 32.17,78.22 30,78.8 C27.83,79.38 25,79.8 24,80" stroke-opacity="0.22"/><path d="M37,76.5 L43,78.8" stroke-opacity="0.19"/><path d="M53.4,61.5 C54.55,61.88 58.75,63.22 60.3,63.8 C61.85,64.38 62.3,64.8 62.7,65" stroke-opacity="0.26"/><path d="M61.5,65 C62.08,66.33 64.23,70.88 65,73 C65.77,75.12 65.33,75.95 66.1,77.7 C66.87,79.45 68.83,82.12 69.6,83.5 C70.37,84.88 70.52,85.58 70.7,86" stroke-opacity="0.26"/><path d="M0,10 C0.83,10.33 3.33,11.5 5,12 C6.67,12.5 9.17,12.83 10,13" stroke-opacity="0.11"/></g>
<g stroke-width="1.5" opacity="0.95" filter="url(#mg2)"><path d="M20.8,23.1 C21.18,22.72 22.13,20.98 23.1,20.8 C24.07,20.62 25.45,20.65 26.6,22 C27.75,23.35 29.03,26.98 30,28.9 C30.97,30.82 31.62,32.15 32.4,33.5 C33.18,34.85 34.13,35.42 34.7,37 C35.27,38.58 35.62,42 35.8,43" stroke-opacity="0.46"/><path d="M20.8,23.1 C20.42,24.25 19.08,27.68 18.5,30 C17.92,32.32 17.68,34.83 17.3,37 C16.92,39.17 16.77,42 16.2,43 C15.63,44 14.28,43 13.9,43" stroke-opacity="0.43"/><path d="M30,28.9 C30.78,28.32 33.33,26.55 34.7,25.4 C36.07,24.25 36.82,23.15 38.2,22 C39.58,20.85 42.2,19.08 43,18.5" stroke-opacity="0.46"/><path d="M52.2,6.9 C53.55,6.13 57.4,3.07 60.3,2.3 C63.2,1.53 66.52,1.33 69.6,2.3 C72.68,3.27 76.87,5.98 78.8,8.1 C80.73,10.22 81,12.5 81.2,15 C81.4,17.5 80.78,20.98 80,23.1 C79.22,25.22 78.62,26.83 76.5,27.7 C74.38,28.57 70,28.48 67.3,28.3 C64.6,28.12 62.62,26.7 60.3,26.6 C57.98,26.5 54.75,28.67 53.4,27.7 C52.05,26.73 52.48,22.92 52.2,20.8 C51.92,18.68 51.7,17.32 51.7,15 C51.7,12.68 52.12,8.25 52.2,6.9" stroke-opacity="0.53"/><path d="M43,18.5 C43.67,18.42 45.27,17.92 47,18 C48.73,18.08 52.33,18.83 53.4,19" stroke-opacity="0.56"/><path d="M43,5.8 C44.17,5.6 48.47,4.42 50,4.6 C51.53,4.78 51.83,6.52 52.2,6.9" stroke-opacity="0.37"/><path d="M76.5,27.7 C76.7,28.87 77.88,32.77 77.7,34.7 C77.52,36.63 76.18,37.92 75.4,39.3 C74.62,40.68 73.58,42.38 73,43 C72.42,43.62 72.47,42.23 71.9,43 C71.33,43.77 70.57,45.67 69.6,47.6 C68.63,49.53 67.25,52.67 66.1,54.6 C64.95,56.53 63.27,58.43 62.7,59.2" stroke-opacity="0.46"/><path d="M77.7,34.7 L86,33.5" stroke-opacity="0.31"/><path d="M53.4,27.7 C53.02,28.67 51.67,30.95 51.1,33.5 C50.53,36.05 50.58,40.83 50,43 C49.42,45.17 47.42,44.57 47.6,46.5 C47.78,48.43 50.13,52.1 51.1,54.6 C52.07,57.1 53.58,59.77 53.4,61.5 C53.22,63.23 50.97,63.08 50,65 C49.03,66.92 48.38,71.08 47.6,73 C46.82,74.92 45.68,75.92 45.3,76.5" stroke-opacity="0.43"/><path d="M78,0 L86,1" stroke-opacity="0.31"/><path d="M13.9,43 C14.47,43.77 16.33,46.15 17.3,47.6 C18.27,49.05 17.77,50.83 19.7,51.7 C21.63,52.57 26.4,53.67 28.9,52.8 C31.4,51.93 33.55,48.13 34.7,46.5 C35.85,44.87 35.62,43.58 35.8,43" stroke-opacity="0.46"/><path d="M19.7,51.7 C19.12,52.95 17.37,57.18 16.2,59.2 C15.03,61.22 14.07,62.83 12.7,63.8 C11.33,64.77 8.78,64.8 8,65" stroke-opacity="0.34"/><path d="M28.9,52.8 C29.08,54.05 29.23,58.08 30,60.3 C30.77,62.52 32.53,64.17 33.5,66.1 C34.47,68.03 35.22,70.17 35.8,71.9 C36.38,73.63 37.97,75.35 37,76.5 C36.03,77.65 32.17,78.22 30,78.8 C27.83,79.38 25,79.8 24,80" stroke-opacity="0.37"/><path d="M37,76.5 L43,78.8" stroke-opacity="0.31"/><path d="M53.4,61.5 C54.55,61.88 58.75,63.22 60.3,63.8 C61.85,64.38 62.3,64.8 62.7,65" stroke-opacity="0.43"/><path d="M61.5,65 C62.08,66.33 64.23,70.88 65,73 C65.77,75.12 65.33,75.95 66.1,77.7 C66.87,79.45 68.83,82.12 69.6,83.5 C70.37,84.88 70.52,85.58 70.7,86" stroke-opacity="0.43"/><path d="M0,10 C0.83,10.33 3.33,11.5 5,12 C6.67,12.5 9.17,12.83 10,13" stroke-opacity="0.19"/></g>
<g stroke-width="1.8" opacity="0.6" filter="url(#bdd)"><path d="M20.8,23.1 C21.18,22.72 22.13,20.98 23.1,20.8 C24.07,20.62 25.45,20.65 26.6,22 C27.75,23.35 29.03,26.98 30,28.9 C30.97,30.82 31.62,32.15 32.4,33.5 C33.18,34.85 34.13,35.42 34.7,37 C35.27,38.58 35.62,42 35.8,43" stroke-opacity="0.46"/><path d="M20.8,23.1 C20.42,24.25 19.08,27.68 18.5,30 C17.92,32.32 17.68,34.83 17.3,37 C16.92,39.17 16.77,42 16.2,43 C15.63,44 14.28,43 13.9,43" stroke-opacity="0.43"/><path d="M30,28.9 C30.78,28.32 33.33,26.55 34.7,25.4 C36.07,24.25 36.82,23.15 38.2,22 C39.58,20.85 42.2,19.08 43,18.5" stroke-opacity="0.46"/><path d="M52.2,6.9 C53.55,6.13 57.4,3.07 60.3,2.3 C63.2,1.53 66.52,1.33 69.6,2.3 C72.68,3.27 76.87,5.98 78.8,8.1 C80.73,10.22 81,12.5 81.2,15 C81.4,17.5 80.78,20.98 80,23.1 C79.22,25.22 78.62,26.83 76.5,27.7 C74.38,28.57 70,28.48 67.3,28.3 C64.6,28.12 62.62,26.7 60.3,26.6 C57.98,26.5 54.75,28.67 53.4,27.7 C52.05,26.73 52.48,22.92 52.2,20.8 C51.92,18.68 51.7,17.32 51.7,15 C51.7,12.68 52.12,8.25 52.2,6.9" stroke-opacity="0.53"/><path d="M43,18.5 C43.67,18.42 45.27,17.92 47,18 C48.73,18.08 52.33,18.83 53.4,19" stroke-opacity="0.56"/><path d="M43,5.8 C44.17,5.6 48.47,4.42 50,4.6 C51.53,4.78 51.83,6.52 52.2,6.9" stroke-opacity="0.37"/><path d="M76.5,27.7 C76.7,28.87 77.88,32.77 77.7,34.7 C77.52,36.63 76.18,37.92 75.4,39.3 C74.62,40.68 73.58,42.38 73,43 C72.42,43.62 72.47,42.23 71.9,43 C71.33,43.77 70.57,45.67 69.6,47.6 C68.63,49.53 67.25,52.67 66.1,54.6 C64.95,56.53 63.27,58.43 62.7,59.2" stroke-opacity="0.46"/><path d="M77.7,34.7 L86,33.5" stroke-opacity="0.31"/><path d="M53.4,27.7 C53.02,28.67 51.67,30.95 51.1,33.5 C50.53,36.05 50.58,40.83 50,43 C49.42,45.17 47.42,44.57 47.6,46.5 C47.78,48.43 50.13,52.1 51.1,54.6 C52.07,57.1 53.58,59.77 53.4,61.5 C53.22,63.23 50.97,63.08 50,65 C49.03,66.92 48.38,71.08 47.6,73 C46.82,74.92 45.68,75.92 45.3,76.5" stroke-opacity="0.43"/><path d="M78,0 L86,1" stroke-opacity="0.31"/><path d="M13.9,43 C14.47,43.77 16.33,46.15 17.3,47.6 C18.27,49.05 17.77,50.83 19.7,51.7 C21.63,52.57 26.4,53.67 28.9,52.8 C31.4,51.93 33.55,48.13 34.7,46.5 C35.85,44.87 35.62,43.58 35.8,43" stroke-opacity="0.46"/><path d="M19.7,51.7 C19.12,52.95 17.37,57.18 16.2,59.2 C15.03,61.22 14.07,62.83 12.7,63.8 C11.33,64.77 8.78,64.8 8,65" stroke-opacity="0.34"/><path d="M28.9,52.8 C29.08,54.05 29.23,58.08 30,60.3 C30.77,62.52 32.53,64.17 33.5,66.1 C34.47,68.03 35.22,70.17 35.8,71.9 C36.38,73.63 37.97,75.35 37,76.5 C36.03,77.65 32.17,78.22 30,78.8 C27.83,79.38 25,79.8 24,80" stroke-opacity="0.37"/><path d="M37,76.5 L43,78.8" stroke-opacity="0.31"/><path d="M53.4,61.5 C54.55,61.88 58.75,63.22 60.3,63.8 C61.85,64.38 62.3,64.8 62.7,65" stroke-opacity="0.43"/><path d="M61.5,65 C62.08,66.33 64.23,70.88 65,73 C65.77,75.12 65.33,75.95 66.1,77.7 C66.87,79.45 68.83,82.12 69.6,83.5 C70.37,84.88 70.52,85.58 70.7,86" stroke-opacity="0.43"/><path d="M0,10 C0.83,10.33 3.33,11.5 5,12 C6.67,12.5 9.17,12.83 10,13" stroke-opacity="0.19"/></g>
</g>
<g fill="#ff1a24" filter="url(#mg2)"><circle cx="20.8" cy="23.1" r="1.42" fill-opacity="1"/><circle cx="32.4" cy="33.5" r="1.52" fill-opacity="1"/><circle cx="34.7" cy="37" r="1.42" fill-opacity="1"/><circle cx="38.2" cy="22" r="1.42" fill-opacity="1"/><circle cx="43" cy="18.5" r="1.52" fill-opacity="1"/><circle cx="48" cy="19" r="1.9" fill-opacity="1"/><circle cx="60.3" cy="2.3" r="1.52" fill-opacity="1"/><circle cx="78.8" cy="8.1" r="1.52" fill-opacity="1"/><circle cx="67.3" cy="28.3" r="1.52" fill-opacity="1"/><circle cx="53.4" cy="27.7" r="1.52" fill-opacity="1"/><circle cx="51.7" cy="15" r="1.52" fill-opacity="1"/><circle cx="50.5" cy="5" r="1.33" fill-opacity="1"/><circle cx="77.7" cy="34.7" r="1.52" fill-opacity="1"/><circle cx="17.3" cy="47.6" r="1.52" fill-opacity="1"/><circle cx="19.7" cy="51.7" r="1.52" fill-opacity="1"/><circle cx="30" cy="78.8" r="1.52" fill-opacity="1"/><circle cx="51.1" cy="54.6" r="1.52" fill-opacity="1"/><circle cx="60.3" cy="63.8" r="1.52" fill-opacity="1"/><circle cx="62.7" cy="59.2" r="1.33" fill-opacity="1"/><circle cx="47.6" cy="73" r="1.42" fill-opacity="1"/><circle cx="66.1" cy="77.7" r="1.42" fill-opacity="1"/><circle cx="45.3" cy="76.5" r="1.33" fill-opacity="1"/><circle cx="16.2" cy="43" r="1.14" fill-opacity="0.94"/><circle cx="69" cy="2" r="1.23" fill-opacity="1"/></g>
<rect x="37.6" y="80.2" width="11.3" height="1.8" fill="#e4dcdc"/>
<g fill="#9a9a9a"><circle cx="37.4" cy="83.7" r="0.65"/><circle cx="42.8" cy="83.7" r="0.65"/><circle cx="48.1" cy="83.7" r="0.65"/></g>
</svg>
<text x="456.2" y="124.3" style="font: bold 7.0px 'Liberation Sans', Arial, sans-serif; fill:#fff" textLength="28" lengthAdjust="spacingAndGlyphs"><tspan style="font-style:italic">d</tspan>, KO-ExT</text>
<defs><filter id="mg1" x="-20%" y="-20%" width="140%" height="140%"><feGaussianBlur stdDeviation="1.3"/></filter><filter id="mg2" x="-20%" y="-20%" width="140%" height="140%"><feGaussianBlur stdDeviation="0.75"/></filter></defs>
<line x1="388.0" y1="340.5" x2="534" y2="340.5" stroke="#222" stroke-width="1.2"/>
<line x1="386.5" y1="340" x2="388.5" y2="340" stroke="#333" stroke-width="0.9"/>
<text x="386.5" y="343.1" text-anchor="end" style="font: bold 8.6px 'Liberation Sans', Arial, sans-serif">0</text>
<line x1="386.5" y1="314.8" x2="388.5" y2="314.8" stroke="#333" stroke-width="0.9"/>
<text x="386.5" y="317.9" text-anchor="end" style="font: bold 8.6px 'Liberation Sans', Arial, sans-serif">4</text>
<line x1="386.5" y1="289.6" x2="388.5" y2="289.6" stroke="#333" stroke-width="0.9"/>
<text x="386.5" y="292.7" text-anchor="end" style="font: bold 8.6px 'Liberation Sans', Arial, sans-serif">8</text>
<line x1="386.5" y1="264.4" x2="388.5" y2="264.4" stroke="#333" stroke-width="0.9"/>
<text x="386.5" y="267.5" text-anchor="end" style="font: bold 8.6px 'Liberation Sans', Arial, sans-serif">12</text>
<line x1="386.5" y1="239.2" x2="388.5" y2="239.2" stroke="#333" stroke-width="0.9"/>
<text x="386.5" y="242.3" text-anchor="end" style="font: bold 8.6px 'Liberation Sans', Arial, sans-serif">16</text>
<line x1="388.5" y1="236.6" x2="388.5" y2="340.5" stroke="#8a8a8a" stroke-width="1.5"/>
<text transform="translate(373.0,285.9) rotate(-90)" text-anchor="middle" style="font: bold 11.5px 'Liberation Sans', Arial, sans-serif">DEH Flu Intensity</text>
<rect x="401.5" y="281.41" width="23.4" height="58.59" fill="#fff" stroke="#000" stroke-width="1.5"/>
<rect x="424.9" y="295.9" width="23.3" height="44.1" fill="#d3d3d3" stroke="#000" stroke-width="1.5"/>
<rect x="474" y="269.44" width="23" height="70.56" fill="#fff" stroke="#000" stroke-width="1.5"/>
<rect x="497" y="255.58" width="23.5" height="84.42" fill="#d3d3d3" stroke="#000" stroke-width="1.5"/>
<circle cx="405.3" cy="275.7" r="1.95" fill="#000"/>
<circle cx="420.3" cy="277" r="1.95" fill="#000"/>
<circle cx="405.3" cy="280.4" r="1.95" fill="#000"/>
<circle cx="412.7" cy="282.1" r="1.95" fill="#000"/>
<circle cx="420.3" cy="283.8" r="1.95" fill="#000"/>
<circle cx="405.3" cy="285.5" r="1.95" fill="#000"/>
<path d="M411.6,279.3 V282.6 M404.3,279.3 H418.9" stroke="#000" stroke-width="1.0" fill="none"/>
<path d="M404.3,282.6 H418.9" stroke="#555" stroke-width="1.0" fill="none"/>
<path d="M435,281.18 L438.8,281.18 L436.9,284.41Z" fill="#000"/>
<path d="M427.7,290.18 L431.5,290.18 L429.6,293.41Z" fill="#000"/>
<path d="M442.3,294.08 L446.1,294.08 L444.2,297.31Z" fill="#000"/>
<path d="M435,296.38 L438.8,296.38 L436.9,299.61Z" fill="#000"/>
<path d="M435,303.18 L438.8,303.18 L436.9,306.41Z" fill="#000"/>
<path d="M437.2,292.3 V298.2 M431.8,292.3 H442.6" stroke="#000" stroke-width="1.0" fill="none"/>
<path d="M431.8,298.2 H442.6" stroke="#555" stroke-width="1.0" fill="none"/>
<circle cx="481.6" cy="261.6" r="1.95" fill="#000"/>
<circle cx="489" cy="261.6" r="1.95" fill="#000"/>
<circle cx="485.3" cy="266.5" r="1.95" fill="#000"/>
<circle cx="485.3" cy="269.7" r="1.95" fill="#000"/>
<circle cx="485.3" cy="274.5" r="1.95" fill="#000"/>
<circle cx="485.3" cy="281.5" r="1.95" fill="#000"/>
<path d="M485.3,265.6 V272.4 M479.7,265.6 H490.9" stroke="#000" stroke-width="1.0" fill="none"/>
<path d="M479.7,272.4 H490.9" stroke="#555" stroke-width="1.0" fill="none"/>
<path d="M507.6,239.98 L511.4,239.98 L509.5,243.21Z" fill="#000"/>
<path d="M503.9,247.18 L507.7,247.18 L505.8,250.41Z" fill="#000"/>
<path d="M511.3,247.18 L515.1,247.18 L513.2,250.41Z" fill="#000"/>
<path d="M507.6,251.58 L511.4,251.58 L509.5,254.81Z" fill="#000"/>
<path d="M503.9,265.38 L507.7,265.38 L505.8,268.61Z" fill="#000"/>
<path d="M511.3,263.78 L515.1,263.78 L513.2,267.01Z" fill="#000"/>
<path d="M509.5,250.8 V258.9 M503.9,250.8 H515.1" stroke="#000" stroke-width="1.0" fill="none"/>
<path d="M503.9,258.9 H515.1" stroke="#555" stroke-width="1.0" fill="none"/>
<path d="M483.9,227.5 V223.5 H508.9 V227.5" fill="none" stroke="#b81c26" stroke-width="1.2"/>
<text x="496.2" y="220.6" text-anchor="middle" style="font: italic bold 7.2px 'Liberation Sans', Arial, sans-serif; fill:#b81c26; stroke:#b81c26; stroke-width:0.12">p=0.017</text>
<path d="M435.1,242.5 V238.5 H508.9 V242.5" fill="none" stroke="#b81c26" stroke-width="1.2"/>
<text x="471.7" y="235.6" text-anchor="middle" style="font: italic bold 7.2px 'Liberation Sans', Arial, sans-serif; fill:#b81c26; stroke:#b81c26; stroke-width:0.12">p=0.0001</text>
<path d="M414.5,257.6 V253.2 H485.2 V257.6" fill="none" stroke="#b81c26" stroke-width="1.2"/>
<text x="450.2" y="250.3" text-anchor="middle" style="font: italic bold 7.2px 'Liberation Sans', Arial, sans-serif; fill:#b81c26; stroke:#b81c26; stroke-width:0.12">p=0.0087</text>
<path d="M414.5,274.8 V270.4 H435.6 V274.8" fill="none" stroke="#b81c26" stroke-width="1.2"/>
<text x="424.6" y="267.6" text-anchor="middle" style="font: italic bold 7.2px 'Liberation Sans', Arial, sans-serif; fill:#b81c26; stroke:#b81c26; stroke-width:0.12">p=0.0017</text>
<circle cx="403.2" cy="229" r="1.85" fill="#000"/>
<text x="408.7" y="231.5" style="font: italic 7.9px 'Liberation Sans', Arial, sans-serif; fill:#111; stroke:#111; stroke-width:0.1">Sed</text>
<rect x="399.4" y="238.6" width="24.2" height="9.8" fill="#d6d6d6"/>
<path d="M401.35,242.44 L405.25,242.44 L403.3,245.75Z" fill="#000"/>
<text x="408.7" y="246.6" style="font: italic 7.9px 'Liberation Sans', Arial, sans-serif; fill:#111; stroke:#111; stroke-width:0.1">ExT</text>
<text x="431.1" y="353.2" text-anchor="middle" style="font: bold 10.5px 'Liberation Sans', Arial, sans-serif">Wildtype</text>
<text x="494.2" y="353.2" text-anchor="middle" style="font: bold 10.5px 'Liberation Sans', Arial, sans-serif">Nrf2-KO</text>
</svg>
</body></html>
